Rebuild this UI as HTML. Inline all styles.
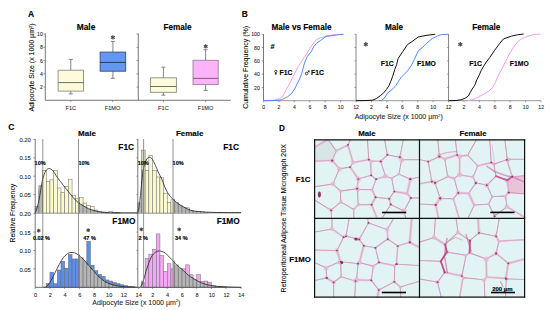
<!DOCTYPE html>
<html><head><meta charset="utf-8"><style>
html,body{margin:0;padding:0;background:#fff;}
svg{display:block;font-family:"Liberation Sans", sans-serif;}
</style></head><body>
<svg width="550" height="310" viewBox="0 0 550 310">
<rect width="550" height="310" fill="#fff"/>
<text x="27.9" y="16.9" font-size="8.5" text-anchor="start" font-weight="bold" stroke="#000" stroke-width="0.12" fill="#000" >A</text>
<text x="0" y="0" font-size="7.0" text-anchor="middle" stroke="#000" stroke-width="0.07" fill="#000" transform="translate(34.1,67.4) rotate(-90)">Adipocyte Size (x 1000 µm<tspan font-size="4.2" dy="-2.4">2</tspan><tspan dy="2.4">)</tspan></text>
<line x1="45.3" y1="33.4" x2="45.3" y2="100.3" stroke="#555" stroke-width="0.8" />
<line x1="43.5" y1="87.06" x2="45.3" y2="87.06" stroke="#555" stroke-width="0.6" />
<line x1="43.5" y1="73.82" x2="45.3" y2="73.82" stroke="#555" stroke-width="0.6" />
<line x1="43.5" y1="60.58" x2="45.3" y2="60.58" stroke="#555" stroke-width="0.6" />
<line x1="43.5" y1="47.339999999999996" x2="45.3" y2="47.339999999999996" stroke="#555" stroke-width="0.6" />
<line x1="43.5" y1="34.099999999999994" x2="45.3" y2="34.099999999999994" stroke="#555" stroke-width="0.6" />
<line x1="138.3" y1="33.4" x2="138.3" y2="100.3" stroke="#555" stroke-width="0.8" />
<line x1="136.5" y1="87.06" x2="138.3" y2="87.06" stroke="#555" stroke-width="0.6" />
<line x1="136.5" y1="73.82" x2="138.3" y2="73.82" stroke="#555" stroke-width="0.6" />
<line x1="136.5" y1="60.58" x2="138.3" y2="60.58" stroke="#555" stroke-width="0.6" />
<line x1="136.5" y1="47.339999999999996" x2="138.3" y2="47.339999999999996" stroke="#555" stroke-width="0.6" />
<line x1="136.5" y1="34.099999999999994" x2="138.3" y2="34.099999999999994" stroke="#555" stroke-width="0.6" />
<text x="42.8" y="89.06" font-size="5.2" text-anchor="end" stroke="#222" stroke-width="0.07" fill="#222" >2</text>
<text x="42.8" y="75.82" font-size="5.2" text-anchor="end" stroke="#222" stroke-width="0.07" fill="#222" >4</text>
<text x="42.8" y="62.58" font-size="5.2" text-anchor="end" stroke="#222" stroke-width="0.07" fill="#222" >6</text>
<text x="42.8" y="49.339999999999996" font-size="5.2" text-anchor="end" stroke="#222" stroke-width="0.07" fill="#222" >8</text>
<text x="42.8" y="36.099999999999994" font-size="5.2" text-anchor="end" stroke="#222" stroke-width="0.07" fill="#222" >10</text>
<line x1="45.3" y1="100.3" x2="230.8" y2="100.3" stroke="#555" stroke-width="0.8" />
<line x1="70.8" y1="100.3" x2="70.8" y2="102.0" stroke="#555" stroke-width="0.6" />
<line x1="112.6" y1="100.3" x2="112.6" y2="102.0" stroke="#555" stroke-width="0.6" />
<line x1="163.4" y1="100.3" x2="163.4" y2="102.0" stroke="#555" stroke-width="0.6" />
<line x1="205.6" y1="100.3" x2="205.6" y2="102.0" stroke="#555" stroke-width="0.6" />
<text x="86" y="30.2" font-size="8.4" text-anchor="middle" font-weight="bold" stroke="#000" stroke-width="0.12" fill="#000" >Male</text>
<text x="177.5" y="30.2" font-size="8.2" text-anchor="middle" font-weight="bold" stroke="#000" stroke-width="0.12" fill="#000" >Female</text>
<text x="70.8" y="109.6" font-size="5.6" text-anchor="middle" stroke="#222" stroke-width="0.07" fill="#222" >F1C</text>
<text x="112.6" y="109.6" font-size="5.6" text-anchor="middle" stroke="#222" stroke-width="0.07" fill="#222" >F1MO</text>
<text x="163.4" y="109.6" font-size="5.6" text-anchor="middle" stroke="#222" stroke-width="0.07" fill="#222" >F1C</text>
<text x="205.6" y="109.6" font-size="5.6" text-anchor="middle" stroke="#222" stroke-width="0.07" fill="#222" >F1MO</text>
<line x1="70.8" y1="59.4" x2="70.8" y2="70.2" stroke="#666" stroke-width="0.8" />
<line x1="70.8" y1="91.1" x2="70.8" y2="93.9" stroke="#666" stroke-width="0.8" />
<line x1="68.8" y1="59.4" x2="72.8" y2="59.4" stroke="#666" stroke-width="0.8" />
<line x1="68.8" y1="93.9" x2="72.8" y2="93.9" stroke="#666" stroke-width="0.8" />
<rect x="58.1" y="70.2" width="25.4" height="20.89999999999999" fill="#fdfbdb" stroke="#8c8c7c" stroke-width="0.9" />
<line x1="58.1" y1="82.6" x2="83.5" y2="82.6" stroke="#6a6a5c" stroke-width="0.95" />
<line x1="112.9" y1="41.4" x2="112.9" y2="52.1" stroke="#666" stroke-width="0.8" />
<line x1="112.9" y1="71.2" x2="112.9" y2="78.3" stroke="#666" stroke-width="0.8" />
<line x1="110.9" y1="41.4" x2="114.9" y2="41.4" stroke="#666" stroke-width="0.8" />
<line x1="110.9" y1="78.3" x2="114.9" y2="78.3" stroke="#666" stroke-width="0.8" />
<rect x="100.1" y="52.1" width="25.60000000000001" height="19.1" fill="#6397f2" stroke="#3b4d75" stroke-width="0.9" />
<line x1="100.1" y1="62.4" x2="125.7" y2="62.4" stroke="#2a3550" stroke-width="0.95" />
<line x1="163.4" y1="67.1" x2="163.4" y2="77.8" stroke="#666" stroke-width="0.8" />
<line x1="163.4" y1="92.3" x2="163.4" y2="95.2" stroke="#666" stroke-width="0.8" />
<line x1="161.4" y1="67.1" x2="165.4" y2="67.1" stroke="#666" stroke-width="0.8" />
<line x1="161.4" y1="95.2" x2="165.4" y2="95.2" stroke="#666" stroke-width="0.8" />
<rect x="150.4" y="77.8" width="26.0" height="14.5" fill="#fdfbdb" stroke="#8c8c7c" stroke-width="0.9" />
<line x1="150.4" y1="86.5" x2="176.4" y2="86.5" stroke="#6a6a5c" stroke-width="0.95" />
<line x1="205.6" y1="49.7" x2="205.6" y2="60.3" stroke="#666" stroke-width="0.8" />
<line x1="205.6" y1="84.6" x2="205.6" y2="90.4" stroke="#666" stroke-width="0.8" />
<line x1="203.6" y1="49.7" x2="207.6" y2="49.7" stroke="#666" stroke-width="0.8" />
<line x1="203.6" y1="90.4" x2="207.6" y2="90.4" stroke="#666" stroke-width="0.8" />
<rect x="193" y="60.3" width="25.19999999999999" height="24.299999999999997" fill="#fbb4f9" stroke="#968696" stroke-width="0.9" />
<line x1="193" y1="78.4" x2="218.2" y2="78.4" stroke="#7a5a7a" stroke-width="0.95" />
<line x1="112.9" y1="35.2" x2="112.9" y2="39.6" stroke="#444" stroke-width="1.15" />
<line x1="110.99" y1="36.3" x2="114.81" y2="38.5" stroke="#444" stroke-width="1.15" />
<line x1="110.99" y1="38.5" x2="114.81" y2="36.3" stroke="#444" stroke-width="1.15" />
<line x1="205.7" y1="44.2" x2="205.7" y2="48.6" stroke="#444" stroke-width="1.15" />
<line x1="203.79" y1="45.3" x2="207.61" y2="47.5" stroke="#444" stroke-width="1.15" />
<line x1="203.79" y1="47.5" x2="207.61" y2="45.3" stroke="#444" stroke-width="1.15" />
<text x="241.8" y="16.9" font-size="8.4" text-anchor="start" font-weight="bold" stroke="#000" stroke-width="0.12" fill="#000" >B</text>
<text x="0" y="0" font-size="7.0" text-anchor="middle" stroke="#000" stroke-width="0.07" fill="#000" transform="translate(248.3,67.4) rotate(-90)">Cumulative Frequency (%)</text>
<line x1="263.5" y1="34.2" x2="263.5" y2="100.7" stroke="#555" stroke-width="0.8" />
<line x1="261.7" y1="87.42" x2="263.5" y2="87.42" stroke="#555" stroke-width="0.6" />
<text x="259.9" y="89.52" font-size="5.2" text-anchor="end" stroke="#222" stroke-width="0.07" fill="#222" >20</text>
<line x1="261.7" y1="74.14" x2="263.5" y2="74.14" stroke="#555" stroke-width="0.6" />
<text x="259.9" y="76.24" font-size="5.2" text-anchor="end" stroke="#222" stroke-width="0.07" fill="#222" >40</text>
<line x1="261.7" y1="60.86" x2="263.5" y2="60.86" stroke="#555" stroke-width="0.6" />
<text x="259.9" y="62.96" font-size="5.2" text-anchor="end" stroke="#222" stroke-width="0.07" fill="#222" >60</text>
<line x1="261.7" y1="47.58" x2="263.5" y2="47.58" stroke="#555" stroke-width="0.6" />
<text x="259.9" y="49.68" font-size="5.2" text-anchor="end" stroke="#222" stroke-width="0.07" fill="#222" >80</text>
<line x1="261.7" y1="34.3" x2="263.5" y2="34.3" stroke="#555" stroke-width="0.6" />
<text x="259.9" y="36.4" font-size="5.2" text-anchor="end" stroke="#222" stroke-width="0.07" fill="#222" >100</text>
<line x1="356.02" y1="34.2" x2="356.02" y2="100.7" stroke="#666" stroke-width="0.8" />
<line x1="354.41999999999996" y1="87.42" x2="356.02" y2="87.42" stroke="#555" stroke-width="0.5" />
<line x1="354.41999999999996" y1="74.14" x2="356.02" y2="74.14" stroke="#555" stroke-width="0.5" />
<line x1="354.41999999999996" y1="60.86" x2="356.02" y2="60.86" stroke="#555" stroke-width="0.5" />
<line x1="354.41999999999996" y1="47.58" x2="356.02" y2="47.58" stroke="#555" stroke-width="0.5" />
<line x1="354.41999999999996" y1="34.3" x2="356.02" y2="34.3" stroke="#555" stroke-width="0.5" />
<line x1="448.53999999999996" y1="34.2" x2="448.53999999999996" y2="100.7" stroke="#666" stroke-width="0.8" />
<line x1="446.93999999999994" y1="87.42" x2="448.53999999999996" y2="87.42" stroke="#555" stroke-width="0.5" />
<line x1="446.93999999999994" y1="74.14" x2="448.53999999999996" y2="74.14" stroke="#555" stroke-width="0.5" />
<line x1="446.93999999999994" y1="60.86" x2="448.53999999999996" y2="60.86" stroke="#555" stroke-width="0.5" />
<line x1="446.93999999999994" y1="47.58" x2="448.53999999999996" y2="47.58" stroke="#555" stroke-width="0.5" />
<line x1="446.93999999999994" y1="34.3" x2="448.53999999999996" y2="34.3" stroke="#555" stroke-width="0.5" />
<line x1="263.5" y1="100.7" x2="541.06" y2="100.7" stroke="#999" stroke-width="1.0" />
<line x1="263.5" y1="100.7" x2="263.5" y2="102.2" stroke="#555" stroke-width="0.6" />
<text x="263.6" y="109.4" font-size="5.2" text-anchor="middle" stroke="#222" stroke-width="0.07" fill="#222" >0</text>
<line x1="278.92" y1="100.7" x2="278.92" y2="102.2" stroke="#555" stroke-width="0.6" />
<text x="279.02000000000004" y="109.4" font-size="5.2" text-anchor="middle" stroke="#222" stroke-width="0.07" fill="#222" >2</text>
<line x1="294.34" y1="100.7" x2="294.34" y2="102.2" stroke="#555" stroke-width="0.6" />
<text x="294.44" y="109.4" font-size="5.2" text-anchor="middle" stroke="#222" stroke-width="0.07" fill="#222" >4</text>
<line x1="309.76" y1="100.7" x2="309.76" y2="102.2" stroke="#555" stroke-width="0.6" />
<text x="309.86" y="109.4" font-size="5.2" text-anchor="middle" stroke="#222" stroke-width="0.07" fill="#222" >6</text>
<line x1="325.18" y1="100.7" x2="325.18" y2="102.2" stroke="#555" stroke-width="0.6" />
<text x="325.28000000000003" y="109.4" font-size="5.2" text-anchor="middle" stroke="#222" stroke-width="0.07" fill="#222" >8</text>
<line x1="340.6" y1="100.7" x2="340.6" y2="102.2" stroke="#555" stroke-width="0.6" />
<text x="340.70000000000005" y="109.4" font-size="5.2" text-anchor="middle" stroke="#222" stroke-width="0.07" fill="#222" >10</text>
<line x1="356.02" y1="100.7" x2="356.02" y2="102.2" stroke="#555" stroke-width="0.6" />
<text x="356.12" y="109.4" font-size="5.2" text-anchor="middle" stroke="#222" stroke-width="0.07" fill="#222" >12</text>
<line x1="371.44" y1="100.7" x2="371.44" y2="102.2" stroke="#555" stroke-width="0.6" />
<text x="371.54" y="109.4" font-size="5.2" text-anchor="middle" stroke="#222" stroke-width="0.07" fill="#222" >2</text>
<line x1="386.85999999999996" y1="100.7" x2="386.85999999999996" y2="102.2" stroke="#555" stroke-width="0.6" />
<text x="386.96" y="109.4" font-size="5.2" text-anchor="middle" stroke="#222" stroke-width="0.07" fill="#222" >4</text>
<line x1="402.28" y1="100.7" x2="402.28" y2="102.2" stroke="#555" stroke-width="0.6" />
<text x="402.38" y="109.4" font-size="5.2" text-anchor="middle" stroke="#222" stroke-width="0.07" fill="#222" >6</text>
<line x1="417.7" y1="100.7" x2="417.7" y2="102.2" stroke="#555" stroke-width="0.6" />
<text x="417.8" y="109.4" font-size="5.2" text-anchor="middle" stroke="#222" stroke-width="0.07" fill="#222" >8</text>
<line x1="433.12" y1="100.7" x2="433.12" y2="102.2" stroke="#555" stroke-width="0.6" />
<text x="433.22" y="109.4" font-size="5.2" text-anchor="middle" stroke="#222" stroke-width="0.07" fill="#222" >10</text>
<line x1="448.53999999999996" y1="100.7" x2="448.53999999999996" y2="102.2" stroke="#555" stroke-width="0.6" />
<text x="448.64" y="109.4" font-size="5.2" text-anchor="middle" stroke="#222" stroke-width="0.07" fill="#222" >12</text>
<line x1="463.96" y1="100.7" x2="463.96" y2="102.2" stroke="#555" stroke-width="0.6" />
<text x="464.06" y="109.4" font-size="5.2" text-anchor="middle" stroke="#222" stroke-width="0.07" fill="#222" >2</text>
<line x1="479.37999999999994" y1="100.7" x2="479.37999999999994" y2="102.2" stroke="#555" stroke-width="0.6" />
<text x="479.47999999999996" y="109.4" font-size="5.2" text-anchor="middle" stroke="#222" stroke-width="0.07" fill="#222" >4</text>
<line x1="494.79999999999995" y1="100.7" x2="494.79999999999995" y2="102.2" stroke="#555" stroke-width="0.6" />
<text x="494.9" y="109.4" font-size="5.2" text-anchor="middle" stroke="#222" stroke-width="0.07" fill="#222" >6</text>
<line x1="510.21999999999997" y1="100.7" x2="510.21999999999997" y2="102.2" stroke="#555" stroke-width="0.6" />
<text x="510.32" y="109.4" font-size="5.2" text-anchor="middle" stroke="#222" stroke-width="0.07" fill="#222" >8</text>
<line x1="525.64" y1="100.7" x2="525.64" y2="102.2" stroke="#555" stroke-width="0.6" />
<text x="525.74" y="109.4" font-size="5.2" text-anchor="middle" stroke="#222" stroke-width="0.07" fill="#222" >10</text>
<line x1="541.06" y1="100.7" x2="541.06" y2="102.2" stroke="#555" stroke-width="0.6" />
<text x="541.16" y="109.4" font-size="5.2" text-anchor="middle" stroke="#222" stroke-width="0.07" fill="#222" >12</text>
<text x="398.7" y="119.0" font-size="7.0" text-anchor="middle" stroke="#222" stroke-width="0.07" fill="#222" >Adipocyte Size (x 1000 µm<tspan font-size="4.2" dy="-2.4">2</tspan><tspan dy="2.4">)</tspan></text>
<text x="301.5" y="30.3" font-size="8.2" text-anchor="middle" font-weight="bold" stroke="#000" stroke-width="0.12" fill="#000" >Male vs Female</text>
<text x="394.0" y="30.3" font-size="8.2" text-anchor="middle" font-weight="bold" stroke="#000" stroke-width="0.12" fill="#000" >Male</text>
<text x="486.3" y="30.3" font-size="8.2" text-anchor="middle" font-weight="bold" stroke="#000" stroke-width="0.12" fill="#000" >Female</text>
<text x="270.6" y="48.9" font-size="7.4" text-anchor="start" font-weight="bold" stroke="#000" stroke-width="0.12" fill="#000" >#</text>
<circle cx="275.8" cy="71.4" r="1.15" fill="none" stroke="#111" stroke-width="0.8"/>
<line x1="275.8" y1="72.5" x2="275.8" y2="74.8" stroke="#111" stroke-width="0.8" />
<line x1="274.7" y1="73.7" x2="276.9" y2="73.7" stroke="#111" stroke-width="0.7" />
<text x="279.6" y="74.9" font-size="6.8" text-anchor="start" font-weight="bold" stroke="#000" stroke-width="0.12" fill="#000" >F1C</text>
<circle cx="306.6" cy="73.5" r="1.25" fill="none" stroke="#111" stroke-width="0.8"/>
<line x1="307.5" y1="72.6" x2="309.2" y2="70.9" stroke="#111" stroke-width="0.8" />
<line x1="307.6" y1="70.9" x2="309.3" y2="70.9" stroke="#111" stroke-width="0.7" />
<line x1="309.2" y1="70.8" x2="309.2" y2="72.5" stroke="#111" stroke-width="0.7" />
<text x="311.0" y="74.9" font-size="6.8" text-anchor="start" font-weight="bold" stroke="#000" stroke-width="0.12" fill="#000" >F1C</text>
<line x1="365.8" y1="42.0" x2="365.8" y2="46.6" stroke="#444" stroke-width="1.15" />
<line x1="363.81" y1="43.15" x2="367.79" y2="45.45" stroke="#444" stroke-width="1.15" />
<line x1="363.81" y1="45.45" x2="367.79" y2="43.15" stroke="#444" stroke-width="1.15" />
<line x1="460.3" y1="42.0" x2="460.3" y2="46.6" stroke="#444" stroke-width="1.15" />
<line x1="458.31" y1="43.15" x2="462.29" y2="45.45" stroke="#444" stroke-width="1.15" />
<line x1="458.31" y1="45.45" x2="462.29" y2="43.15" stroke="#444" stroke-width="1.15" />
<text x="387.2" y="65.5" font-size="6.8" text-anchor="middle" font-weight="bold" stroke="#000" stroke-width="0.12" fill="#000" >F1C</text>
<text x="426.4" y="65.6" font-size="6.8" text-anchor="middle" font-weight="bold" stroke="#000" stroke-width="0.12" fill="#000" >F1MO</text>
<text x="475.6" y="65.6" font-size="6.8" text-anchor="middle" font-weight="bold" stroke="#000" stroke-width="0.12" fill="#000" >F1C</text>
<text x="519.3" y="65.7" font-size="6.8" text-anchor="middle" font-weight="bold" stroke="#000" stroke-width="0.12" fill="#000" >F1MO</text>
<polyline points="263.5,100.7 272.0,100.4 279.8,98.7 282.3,96.8 284.3,93.6 286.2,89.7 288.8,85.2 290.7,81.3 293.3,76.2 295.9,71.0 298.2,66.5 300.2,63.5 304.0,57.7 307.9,51.9 311.8,45.5 315.6,40.3 318.9,38.4 323.4,37.1 326.0,35.8 331.1,35.2 336.3,34.5 343.4,34.3" fill="none" stroke="#f59cf2" stroke-width="1.0" stroke-linejoin="round" />
<polyline points="263.5,100.7 274.6,100.5 281.0,100.0 283.6,98.7 287.5,96.8 291.4,93.6 294.6,89.1 297.1,83.9 299.7,78.8 301.7,73.6 302.8,69.4 304.7,62.3 307.3,56.5 311.1,51.9 313.7,46.8 316.3,43.5 320.8,40.3 326.0,36.5 331.1,35.8 337.6,34.9 343.4,34.3" fill="none" stroke="#4f8cf0" stroke-width="1.0" stroke-linejoin="round" />
<polyline points="356.0,100.7 367.0,100.5 372.8,100.1 376.6,98.5 380.5,95.5 383.7,92.9 386.3,89.7 388.9,85.8 390.8,81.3 392.7,76.2 394.7,69.7 396.6,64.6 398.1,58.6 402.7,51.7 407.4,44.7 412.0,41.6 418.2,37.0 426.0,35.4 435.2,34.3" fill="none" stroke="#111" stroke-width="1.0" stroke-linejoin="round" />
<polyline points="379.0,100.7 381.8,100.4 385.0,97.4 387.6,92.9 390.1,91.0 393.4,88.4 396.0,85.2 398.5,81.3 401.1,77.5 404.0,74.5 407.4,71.0 411.3,65.6 414.4,59.4 418.2,50.9 422.1,47.8 426.7,43.2 432.2,38.5 437.6,35.9 441.4,34.6 447.6,34.3" fill="none" stroke="#4f8cf0" stroke-width="1.0" stroke-linejoin="round" />
<polyline points="448.5,100.7 456.1,100.5 461.9,99.6 465.8,97.8 468.3,96.1 470.3,92.3 472.2,89.1 474.8,85.2 476.7,80.0 479.3,74.9 481.2,70.4 483.8,65.9 486.4,62.0 489.8,57.4 494.7,50.2 499.5,43.7 503.5,38.9 511.6,36.1 517.3,34.8 523.7,34.0" fill="none" stroke="#111" stroke-width="1.0" stroke-linejoin="round" />
<polyline points="468.0,100.7 473.5,99.4 478.6,96.8 483.8,94.2 489.0,91.0 492.8,87.1 495.4,82.6 497.3,77.5 499.0,74.2 501.1,70.3 505.2,62.3 509.2,54.2 513.2,47.7 517.3,42.1 521.3,38.9 526.9,36.5 533.4,34.5 540.6,34.0" fill="none" stroke="#f59cf2" stroke-width="1.0" stroke-linejoin="round" />
<text x="8.3" y="130.3" font-size="8.5" text-anchor="start" font-weight="bold" stroke="#000" stroke-width="0.12" fill="#000" >C</text>
<text x="0" y="0" font-size="6.8" text-anchor="middle" stroke="#000" stroke-width="0.07" fill="#000" transform="translate(14.6,213.1) rotate(-90)">Relative Frequency</text>
<line x1="33.400000000000006" y1="194.6" x2="35.2" y2="194.6" stroke="#555" stroke-width="0.6" />
<line x1="136.3" y1="194.6" x2="137.8" y2="194.6" stroke="#555" stroke-width="0.5" />
<text x="30.9" y="197.2" font-size="5.9" text-anchor="end" stroke="#222" stroke-width="0.07" fill="#222" >0.05</text>
<line x1="33.400000000000006" y1="176.2" x2="35.2" y2="176.2" stroke="#555" stroke-width="0.6" />
<line x1="136.3" y1="176.2" x2="137.8" y2="176.2" stroke="#555" stroke-width="0.5" />
<text x="30.9" y="178.79999999999998" font-size="5.9" text-anchor="end" stroke="#222" stroke-width="0.07" fill="#222" >0.10</text>
<line x1="33.400000000000006" y1="157.79999999999998" x2="35.2" y2="157.79999999999998" stroke="#555" stroke-width="0.6" />
<line x1="136.3" y1="157.79999999999998" x2="137.8" y2="157.79999999999998" stroke="#555" stroke-width="0.5" />
<text x="30.9" y="160.39999999999998" font-size="5.9" text-anchor="end" stroke="#222" stroke-width="0.07" fill="#222" >0.15</text>
<line x1="33.400000000000006" y1="139.39999999999998" x2="35.2" y2="139.39999999999998" stroke="#555" stroke-width="0.6" />
<line x1="136.3" y1="139.39999999999998" x2="137.8" y2="139.39999999999998" stroke="#555" stroke-width="0.5" />
<text x="30.9" y="141.99999999999997" font-size="5.9" text-anchor="end" stroke="#222" stroke-width="0.07" fill="#222" >0.20</text>
<line x1="33.400000000000006" y1="268.90000000000003" x2="35.2" y2="268.90000000000003" stroke="#555" stroke-width="0.6" />
<line x1="136.3" y1="268.90000000000003" x2="137.8" y2="268.90000000000003" stroke="#555" stroke-width="0.5" />
<text x="30.9" y="271.50000000000006" font-size="5.9" text-anchor="end" stroke="#222" stroke-width="0.07" fill="#222" >0.05</text>
<line x1="33.400000000000006" y1="250.5" x2="35.2" y2="250.5" stroke="#555" stroke-width="0.6" />
<line x1="136.3" y1="250.5" x2="137.8" y2="250.5" stroke="#555" stroke-width="0.5" />
<text x="30.9" y="253.1" font-size="5.9" text-anchor="end" stroke="#222" stroke-width="0.07" fill="#222" >0.10</text>
<line x1="33.400000000000006" y1="232.1" x2="35.2" y2="232.1" stroke="#555" stroke-width="0.6" />
<line x1="136.3" y1="232.1" x2="137.8" y2="232.1" stroke="#555" stroke-width="0.5" />
<text x="30.9" y="234.7" font-size="5.9" text-anchor="end" stroke="#222" stroke-width="0.07" fill="#222" >0.15</text>
<line x1="33.400000000000006" y1="213.7" x2="35.2" y2="213.7" stroke="#555" stroke-width="0.6" />
<line x1="136.3" y1="213.7" x2="137.8" y2="213.7" stroke="#555" stroke-width="0.5" />
<text x="30.9" y="216.29999999999998" font-size="5.9" text-anchor="end" stroke="#222" stroke-width="0.07" fill="#222" >0.20</text>
<line x1="35.2" y1="287.3" x2="35.2" y2="288.90000000000003" stroke="#555" stroke-width="0.6" />
<text x="35.5" y="297.0" font-size="5.6" text-anchor="middle" stroke="#222" stroke-width="0.07" fill="#222" >0</text>
<line x1="49.940000000000005" y1="287.3" x2="49.940000000000005" y2="288.90000000000003" stroke="#555" stroke-width="0.6" />
<text x="50.24" y="297.0" font-size="5.6" text-anchor="middle" stroke="#222" stroke-width="0.07" fill="#222" >2</text>
<line x1="64.68" y1="287.3" x2="64.68" y2="288.90000000000003" stroke="#555" stroke-width="0.6" />
<text x="64.98" y="297.0" font-size="5.6" text-anchor="middle" stroke="#222" stroke-width="0.07" fill="#222" >4</text>
<line x1="79.42" y1="287.3" x2="79.42" y2="288.90000000000003" stroke="#555" stroke-width="0.6" />
<text x="79.72" y="297.0" font-size="5.6" text-anchor="middle" stroke="#222" stroke-width="0.07" fill="#222" >6</text>
<line x1="94.16" y1="287.3" x2="94.16" y2="288.90000000000003" stroke="#555" stroke-width="0.6" />
<text x="94.46" y="297.0" font-size="5.6" text-anchor="middle" stroke="#222" stroke-width="0.07" fill="#222" >8</text>
<line x1="108.9" y1="287.3" x2="108.9" y2="288.90000000000003" stroke="#555" stroke-width="0.6" />
<text x="109.2" y="297.0" font-size="5.6" text-anchor="middle" stroke="#222" stroke-width="0.07" fill="#222" >10</text>
<line x1="123.64" y1="287.3" x2="123.64" y2="288.90000000000003" stroke="#555" stroke-width="0.6" />
<text x="123.94" y="297.0" font-size="5.6" text-anchor="middle" stroke="#222" stroke-width="0.07" fill="#222" >12</text>
<line x1="138.38" y1="287.3" x2="138.38" y2="288.90000000000003" stroke="#555" stroke-width="0.6" />
<text x="138.68" y="297.0" font-size="5.6" text-anchor="middle" stroke="#222" stroke-width="0.07" fill="#222" >14</text>
<line x1="152.54000000000002" y1="287.3" x2="152.54000000000002" y2="288.90000000000003" stroke="#555" stroke-width="0.6" />
<text x="152.84000000000003" y="297.0" font-size="5.6" text-anchor="middle" stroke="#222" stroke-width="0.07" fill="#222" >2</text>
<line x1="167.28" y1="287.3" x2="167.28" y2="288.90000000000003" stroke="#555" stroke-width="0.6" />
<text x="167.58" y="297.0" font-size="5.6" text-anchor="middle" stroke="#222" stroke-width="0.07" fill="#222" >4</text>
<line x1="182.02" y1="287.3" x2="182.02" y2="288.90000000000003" stroke="#555" stroke-width="0.6" />
<text x="182.32000000000002" y="297.0" font-size="5.6" text-anchor="middle" stroke="#222" stroke-width="0.07" fill="#222" >6</text>
<line x1="196.76000000000002" y1="287.3" x2="196.76000000000002" y2="288.90000000000003" stroke="#555" stroke-width="0.6" />
<text x="197.06000000000003" y="297.0" font-size="5.6" text-anchor="middle" stroke="#222" stroke-width="0.07" fill="#222" >8</text>
<line x1="211.5" y1="287.3" x2="211.5" y2="288.90000000000003" stroke="#555" stroke-width="0.6" />
<text x="211.8" y="297.0" font-size="5.6" text-anchor="middle" stroke="#222" stroke-width="0.07" fill="#222" >10</text>
<line x1="226.24" y1="287.3" x2="226.24" y2="288.90000000000003" stroke="#555" stroke-width="0.6" />
<text x="226.54000000000002" y="297.0" font-size="5.6" text-anchor="middle" stroke="#222" stroke-width="0.07" fill="#222" >12</text>
<line x1="240.98000000000002" y1="287.3" x2="240.98000000000002" y2="288.90000000000003" stroke="#555" stroke-width="0.6" />
<text x="241.28000000000003" y="297.0" font-size="5.6" text-anchor="middle" stroke="#222" stroke-width="0.07" fill="#222" >14</text>
<text x="136.4" y="304.7" font-size="7.0" text-anchor="middle" stroke="#222" stroke-width="0.07" fill="#222" >Adipocyte Size (x 1000 µm<tspan font-size="4.2" dy="-2.4">2</tspan><tspan dy="2.4">)</tspan></text>
<line x1="35.2" y1="213.0" x2="240.98000000000002" y2="213.0" stroke="#777" stroke-width="0.7" />
<rect x="35.2" y="206.74" width="3.685" height="6.26" fill="#b6b6b6" stroke="#6a6a6a" stroke-width="0.5" />
<rect x="38.89" y="185.77" width="3.685" height="27.23" fill="#b6b6b6" stroke="#6a6a6a" stroke-width="0.5" />
<rect x="42.57" y="170.31" width="3.685" height="42.69" fill="#fbf9d0" stroke="#6a6a6a" stroke-width="0.5" />
<rect x="46.26" y="181.72" width="3.685" height="31.28" fill="#fbf9d0" stroke="#6a6a6a" stroke-width="0.5" />
<rect x="49.94" y="179.88" width="3.685" height="33.12" fill="#fbf9d0" stroke="#6a6a6a" stroke-width="0.5" />
<rect x="53.62" y="170.68" width="3.685" height="42.32" fill="#fbf9d0" stroke="#6a6a6a" stroke-width="0.5" />
<rect x="57.31" y="187.98" width="3.685" height="25.02" fill="#fbf9d0" stroke="#6a6a6a" stroke-width="0.5" />
<rect x="61.0" y="192.39" width="3.685" height="20.61" fill="#fbf9d0" stroke="#6a6a6a" stroke-width="0.5" />
<rect x="64.68" y="186.5" width="3.685" height="26.5" fill="#fbf9d0" stroke="#6a6a6a" stroke-width="0.5" />
<rect x="68.37" y="179.14" width="3.685" height="33.86" fill="#fbf9d0" stroke="#6a6a6a" stroke-width="0.5" />
<rect x="72.05" y="195.7" width="3.685" height="17.3" fill="#fbf9d0" stroke="#6a6a6a" stroke-width="0.5" />
<rect x="75.74" y="198.65" width="3.685" height="14.35" fill="#fbf9d0" stroke="#6a6a6a" stroke-width="0.5" />
<rect x="79.42" y="197.54" width="3.685" height="15.46" fill="#fbf9d0" stroke="#6a6a6a" stroke-width="0.5" />
<rect x="83.11" y="203.06" width="3.685" height="9.94" fill="#fbf9d0" stroke="#6a6a6a" stroke-width="0.5" />
<rect x="86.79" y="205.64" width="3.685" height="7.36" fill="#fbf9d0" stroke="#6a6a6a" stroke-width="0.5" />
<rect x="90.47" y="206.74" width="3.685" height="6.26" fill="#fbf9d0" stroke="#6a6a6a" stroke-width="0.5" />
<rect x="94.16" y="210.06" width="3.685" height="2.94" fill="#fbf9d0" stroke="#6a6a6a" stroke-width="0.5" />
<rect x="97.84" y="211.53" width="3.685" height="1.47" fill="#fbf9d0" stroke="#6a6a6a" stroke-width="0.5" />
<rect x="101.53" y="211.9" width="3.685" height="1.1" fill="#fbf9d0" stroke="#6a6a6a" stroke-width="0.5" />
<rect x="105.22" y="212.26" width="3.685" height="0.74" fill="#fbf9d0" stroke="#6a6a6a" stroke-width="0.5" />
<rect x="108.9" y="211.53" width="3.685" height="1.47" fill="#fbf9d0" stroke="#6a6a6a" stroke-width="0.5" />
<rect x="112.59" y="212.63" width="3.685" height="0.37" fill="#fbf9d0" stroke="#6a6a6a" stroke-width="0.5" />
<rect x="116.27" y="212.63" width="3.685" height="0.37" fill="#fbf9d0" stroke="#6a6a6a" stroke-width="0.5" />
<rect x="35.2" y="207.83" width="3.69" height="5.17" fill="#b6b6b6" stroke="none" stroke-width="0" />
<line x1="35.2" y1="213.0" x2="35.2" y2="207.83" stroke="#6e6e6e" stroke-width="0.55" />
<line x1="38.89" y1="213.0" x2="38.89" y2="207.83" stroke="#6e6e6e" stroke-width="0.55" />
<rect x="38.89" y="189.74" width="3.69" height="23.26" fill="#b6b6b6" stroke="none" stroke-width="0" />
<line x1="38.89" y1="213.0" x2="38.89" y2="189.74" stroke="#6e6e6e" stroke-width="0.55" />
<line x1="42.57" y1="213.0" x2="42.57" y2="189.74" stroke="#6e6e6e" stroke-width="0.55" />
<rect x="42.57" y="174.49" width="0.23" height="38.51" fill="#b6b6b6" stroke="none" stroke-width="0" />
<line x1="42.57" y1="213.0" x2="42.57" y2="174.49" stroke="#6e6e6e" stroke-width="0.55" />
<rect x="78.5" y="201.98" width="0.92" height="11.02" fill="#b6b6b6" stroke="none" stroke-width="0" />
<line x1="79.42" y1="213.0" x2="79.42" y2="201.98" stroke="#6e6e6e" stroke-width="0.55" />
<rect x="79.42" y="204.52" width="3.69" height="8.48" fill="#b6b6b6" stroke="none" stroke-width="0" />
<line x1="79.42" y1="213.0" x2="79.42" y2="204.52" stroke="#6e6e6e" stroke-width="0.55" />
<line x1="83.11" y1="213.0" x2="83.11" y2="204.52" stroke="#6e6e6e" stroke-width="0.55" />
<rect x="83.11" y="206.72" width="3.69" height="6.28" fill="#b6b6b6" stroke="none" stroke-width="0" />
<line x1="83.11" y1="213.0" x2="83.11" y2="206.72" stroke="#6e6e6e" stroke-width="0.55" />
<line x1="86.79" y1="213.0" x2="86.79" y2="206.72" stroke="#6e6e6e" stroke-width="0.55" />
<rect x="86.79" y="208.81" width="3.69" height="4.19" fill="#b6b6b6" stroke="none" stroke-width="0" />
<line x1="86.79" y1="213.0" x2="86.79" y2="208.81" stroke="#6e6e6e" stroke-width="0.55" />
<line x1="90.48" y1="213.0" x2="90.48" y2="208.81" stroke="#6e6e6e" stroke-width="0.55" />
<rect x="90.47" y="209.94" width="3.69" height="3.06" fill="#b6b6b6" stroke="none" stroke-width="0" />
<line x1="90.47" y1="213.0" x2="90.47" y2="209.94" stroke="#6e6e6e" stroke-width="0.55" />
<line x1="94.16" y1="213.0" x2="94.16" y2="209.94" stroke="#6e6e6e" stroke-width="0.55" />
<rect x="94.16" y="210.95" width="3.69" height="2.05" fill="#b6b6b6" stroke="none" stroke-width="0" />
<line x1="94.16" y1="213.0" x2="94.16" y2="210.95" stroke="#6e6e6e" stroke-width="0.55" />
<line x1="97.84" y1="213.0" x2="97.84" y2="210.95" stroke="#6e6e6e" stroke-width="0.55" />
<rect x="97.84" y="211.87" width="3.69" height="1.13" fill="#b6b6b6" stroke="none" stroke-width="0" />
<line x1="97.84" y1="213.0" x2="97.84" y2="211.87" stroke="#6e6e6e" stroke-width="0.55" />
<line x1="101.53" y1="213.0" x2="101.53" y2="211.87" stroke="#6e6e6e" stroke-width="0.55" />
<rect x="101.53" y="212.34" width="3.69" height="0.66" fill="#b6b6b6" stroke="none" stroke-width="0" />
<line x1="101.53" y1="213.0" x2="101.53" y2="212.34" stroke="#6e6e6e" stroke-width="0.55" />
<line x1="105.22" y1="213.0" x2="105.22" y2="212.34" stroke="#6e6e6e" stroke-width="0.55" />
<path d="M35.20 212.90C35.50 212.08 36.30 210.45 37.00 208.00C37.70 205.55 38.73 201.53 39.40 198.20C40.07 194.87 40.47 191.13 41.00 188.00C41.53 184.87 41.82 182.23 42.60 179.40C43.38 176.57 44.58 172.82 45.70 171.00C46.82 169.18 48.07 168.50 49.30 168.50C50.53 168.50 51.77 169.53 53.10 171.00C54.43 172.47 55.55 174.85 57.30 177.30C59.05 179.75 61.82 183.40 63.60 185.70C65.38 188.00 66.40 189.12 68.00 191.10C69.60 193.08 71.48 195.67 73.20 197.60C74.92 199.53 76.58 201.32 78.30 202.70C80.02 204.08 81.78 204.88 83.50 205.90C85.22 206.92 86.88 208.05 88.60 208.80C90.32 209.55 91.87 209.87 93.80 210.40C95.73 210.93 98.05 211.62 100.20 212.00C102.35 212.38 103.40 212.55 106.70 212.70C110.00 212.85 114.87 212.87 120.00 212.90C125.13 212.93 134.58 212.90 137.50 212.90" fill="none" stroke="#222" stroke-width="0.8"/>
<rect x="137.8" y="211.16" width="3.685" height="1.84" fill="#b6b6b6" stroke="#6a6a6a" stroke-width="0.5" />
<rect x="141.49" y="150.07" width="3.685" height="62.93" fill="#d9d7b2" stroke="#6a6a6a" stroke-width="0.5" />
<rect x="145.17" y="170.31" width="3.685" height="42.69" fill="#fbf9d0" stroke="#6a6a6a" stroke-width="0.5" />
<rect x="148.86" y="155.59" width="3.685" height="57.41" fill="#fbf9d0" stroke="#6a6a6a" stroke-width="0.5" />
<rect x="152.54" y="170.68" width="3.685" height="42.32" fill="#fbf9d0" stroke="#6a6a6a" stroke-width="0.5" />
<rect x="156.23" y="176.94" width="3.685" height="36.06" fill="#fbf9d0" stroke="#6a6a6a" stroke-width="0.5" />
<rect x="159.91" y="177.67" width="3.685" height="35.33" fill="#fbf9d0" stroke="#6a6a6a" stroke-width="0.5" />
<rect x="163.6" y="193.13" width="3.685" height="19.87" fill="#fbf9d0" stroke="#6a6a6a" stroke-width="0.5" />
<rect x="167.28" y="202.33" width="3.685" height="10.67" fill="#fbf9d0" stroke="#6a6a6a" stroke-width="0.5" />
<rect x="170.97" y="199.75" width="3.685" height="13.25" fill="#fbf9d0" stroke="#6a6a6a" stroke-width="0.5" />
<rect x="174.65" y="203.43" width="3.685" height="9.57" fill="#fbf9d0" stroke="#6a6a6a" stroke-width="0.5" />
<rect x="178.34" y="205.27" width="3.685" height="7.73" fill="#fbf9d0" stroke="#6a6a6a" stroke-width="0.5" />
<rect x="182.02" y="207.48" width="3.685" height="5.52" fill="#fbf9d0" stroke="#6a6a6a" stroke-width="0.5" />
<rect x="185.71" y="207.85" width="3.685" height="5.15" fill="#fbf9d0" stroke="#6a6a6a" stroke-width="0.5" />
<rect x="189.39" y="210.42" width="3.685" height="2.58" fill="#fbf9d0" stroke="#6a6a6a" stroke-width="0.5" />
<rect x="193.08" y="211.53" width="3.685" height="1.47" fill="#fbf9d0" stroke="#6a6a6a" stroke-width="0.5" />
<rect x="196.76" y="211.9" width="3.685" height="1.1" fill="#fbf9d0" stroke="#6a6a6a" stroke-width="0.5" />
<rect x="200.45" y="212.26" width="3.685" height="0.74" fill="#fbf9d0" stroke="#6a6a6a" stroke-width="0.5" />
<rect x="204.13" y="212.63" width="3.685" height="0.37" fill="#fbf9d0" stroke="#6a6a6a" stroke-width="0.5" />
<rect x="137.8" y="202.33" width="3.69" height="10.67" fill="#b6b6b6" stroke="none" stroke-width="0" />
<line x1="137.8" y1="213.0" x2="137.8" y2="202.33" stroke="#6e6e6e" stroke-width="0.55" />
<line x1="141.49" y1="213.0" x2="141.49" y2="202.33" stroke="#6e6e6e" stroke-width="0.55" />
<rect x="141.49" y="169.49" width="2.11" height="43.51" fill="#b6b6b6" stroke="none" stroke-width="0" />
<line x1="141.49" y1="213.0" x2="141.49" y2="169.49" stroke="#6e6e6e" stroke-width="0.55" />
<rect x="173.0" y="198.86" width="1.65" height="14.14" fill="#b6b6b6" stroke="none" stroke-width="0" />
<line x1="174.65" y1="213.0" x2="174.65" y2="198.86" stroke="#6e6e6e" stroke-width="0.55" />
<rect x="174.65" y="202.13" width="3.69" height="10.87" fill="#b6b6b6" stroke="none" stroke-width="0" />
<line x1="174.65" y1="213.0" x2="174.65" y2="202.13" stroke="#6e6e6e" stroke-width="0.55" />
<line x1="178.34" y1="213.0" x2="178.34" y2="202.13" stroke="#6e6e6e" stroke-width="0.55" />
<rect x="178.34" y="204.9" width="3.69" height="8.1" fill="#b6b6b6" stroke="none" stroke-width="0" />
<line x1="178.34" y1="213.0" x2="178.34" y2="204.9" stroke="#6e6e6e" stroke-width="0.55" />
<line x1="182.02" y1="213.0" x2="182.02" y2="204.9" stroke="#6e6e6e" stroke-width="0.55" />
<rect x="182.02" y="207.01" width="3.69" height="5.99" fill="#b6b6b6" stroke="none" stroke-width="0" />
<line x1="182.02" y1="213.0" x2="182.02" y2="207.01" stroke="#6e6e6e" stroke-width="0.55" />
<line x1="185.71" y1="213.0" x2="185.71" y2="207.01" stroke="#6e6e6e" stroke-width="0.55" />
<rect x="185.71" y="208.77" width="3.69" height="4.23" fill="#b6b6b6" stroke="none" stroke-width="0" />
<line x1="185.71" y1="213.0" x2="185.71" y2="208.77" stroke="#6e6e6e" stroke-width="0.55" />
<line x1="189.39" y1="213.0" x2="189.39" y2="208.77" stroke="#6e6e6e" stroke-width="0.55" />
<rect x="189.39" y="210.22" width="3.69" height="2.78" fill="#b6b6b6" stroke="none" stroke-width="0" />
<line x1="189.39" y1="213.0" x2="189.39" y2="210.22" stroke="#6e6e6e" stroke-width="0.55" />
<line x1="193.08" y1="213.0" x2="193.08" y2="210.22" stroke="#6e6e6e" stroke-width="0.55" />
<rect x="193.08" y="211.01" width="3.69" height="1.99" fill="#b6b6b6" stroke="none" stroke-width="0" />
<line x1="193.08" y1="213.0" x2="193.08" y2="211.01" stroke="#6e6e6e" stroke-width="0.55" />
<line x1="196.76" y1="213.0" x2="196.76" y2="211.01" stroke="#6e6e6e" stroke-width="0.55" />
<rect x="196.76" y="211.36" width="3.69" height="1.64" fill="#b6b6b6" stroke="none" stroke-width="0" />
<line x1="196.76" y1="213.0" x2="196.76" y2="211.36" stroke="#6e6e6e" stroke-width="0.55" />
<line x1="200.45" y1="213.0" x2="200.45" y2="211.36" stroke="#6e6e6e" stroke-width="0.55" />
<rect x="200.45" y="211.7" width="3.69" height="1.3" fill="#b6b6b6" stroke="none" stroke-width="0" />
<line x1="200.45" y1="213.0" x2="200.45" y2="211.7" stroke="#6e6e6e" stroke-width="0.55" />
<line x1="204.13" y1="213.0" x2="204.13" y2="211.7" stroke="#6e6e6e" stroke-width="0.55" />
<rect x="204.13" y="212.05" width="3.69" height="0.95" fill="#b6b6b6" stroke="none" stroke-width="0" />
<line x1="204.13" y1="213.0" x2="204.13" y2="212.05" stroke="#6e6e6e" stroke-width="0.55" />
<line x1="207.81" y1="213.0" x2="207.81" y2="212.05" stroke="#6e6e6e" stroke-width="0.55" />
<rect x="207.81" y="212.19" width="3.69" height="0.81" fill="#b6b6b6" stroke="none" stroke-width="0" />
<line x1="207.81" y1="213.0" x2="207.81" y2="212.19" stroke="#6e6e6e" stroke-width="0.55" />
<line x1="211.5" y1="213.0" x2="211.5" y2="212.19" stroke="#6e6e6e" stroke-width="0.55" />
<rect x="211.5" y="212.3" width="3.69" height="0.7" fill="#b6b6b6" stroke="none" stroke-width="0" />
<line x1="211.5" y1="213.0" x2="211.5" y2="212.3" stroke="#6e6e6e" stroke-width="0.55" />
<line x1="215.19" y1="213.0" x2="215.19" y2="212.3" stroke="#6e6e6e" stroke-width="0.55" />
<rect x="215.19" y="212.41" width="3.69" height="0.59" fill="#b6b6b6" stroke="none" stroke-width="0" />
<line x1="215.19" y1="213.0" x2="215.19" y2="212.41" stroke="#6e6e6e" stroke-width="0.55" />
<line x1="218.87" y1="213.0" x2="218.87" y2="212.41" stroke="#6e6e6e" stroke-width="0.55" />
<rect x="218.87" y="212.5" width="3.69" height="0.5" fill="#b6b6b6" stroke="none" stroke-width="0" />
<line x1="218.87" y1="213.0" x2="218.87" y2="212.5" stroke="#6e6e6e" stroke-width="0.55" />
<line x1="222.56" y1="213.0" x2="222.56" y2="212.5" stroke="#6e6e6e" stroke-width="0.55" />
<rect x="222.56" y="212.52" width="3.69" height="0.48" fill="#b6b6b6" stroke="none" stroke-width="0" />
<line x1="222.56" y1="213.0" x2="222.56" y2="212.52" stroke="#6e6e6e" stroke-width="0.55" />
<line x1="226.24" y1="213.0" x2="226.24" y2="212.52" stroke="#6e6e6e" stroke-width="0.55" />
<rect x="226.24" y="212.54" width="3.69" height="0.46" fill="#b6b6b6" stroke="none" stroke-width="0" />
<line x1="226.24" y1="213.0" x2="226.24" y2="212.54" stroke="#6e6e6e" stroke-width="0.55" />
<line x1="229.93" y1="213.0" x2="229.93" y2="212.54" stroke="#6e6e6e" stroke-width="0.55" />
<rect x="229.93" y="212.56" width="3.69" height="0.44" fill="#b6b6b6" stroke="none" stroke-width="0" />
<line x1="229.93" y1="213.0" x2="229.93" y2="212.56" stroke="#6e6e6e" stroke-width="0.55" />
<line x1="233.61" y1="213.0" x2="233.61" y2="212.56" stroke="#6e6e6e" stroke-width="0.55" />
<rect x="233.61" y="212.57" width="3.69" height="0.43" fill="#b6b6b6" stroke="none" stroke-width="0" />
<line x1="233.61" y1="213.0" x2="233.61" y2="212.57" stroke="#6e6e6e" stroke-width="0.55" />
<line x1="237.3" y1="213.0" x2="237.3" y2="212.57" stroke="#6e6e6e" stroke-width="0.55" />
<rect x="237.3" y="212.59" width="3.69" height="0.41" fill="#b6b6b6" stroke="none" stroke-width="0" />
<line x1="237.3" y1="213.0" x2="237.3" y2="212.59" stroke="#6e6e6e" stroke-width="0.55" />
<line x1="240.98" y1="213.0" x2="240.98" y2="212.59" stroke="#6e6e6e" stroke-width="0.55" />
<path d="M138.10 212.40C138.42 210.33 139.38 205.23 140.00 200.00C140.62 194.77 141.27 186.00 141.80 181.00C142.33 176.00 142.73 172.77 143.20 170.00C143.67 167.23 144.00 166.23 144.60 164.40C145.20 162.57 146.07 160.18 146.80 159.00C147.53 157.82 148.37 157.53 149.00 157.30C149.63 157.07 149.97 157.15 150.60 157.60C151.23 158.05 151.98 158.68 152.80 160.00C153.62 161.32 154.68 163.67 155.50 165.50C156.32 167.33 156.97 169.35 157.70 171.00C158.43 172.65 159.17 173.93 159.90 175.40C160.63 176.87 161.35 178.03 162.10 179.80C162.85 181.57 163.50 183.88 164.40 186.00C165.30 188.12 166.32 190.55 167.50 192.50C168.68 194.45 169.65 195.78 171.50 197.70C173.35 199.62 176.25 202.28 178.60 204.00C180.95 205.72 183.25 206.87 185.60 208.00C187.95 209.13 189.22 210.12 192.70 210.80C196.18 211.48 201.95 211.82 206.50 212.10C211.05 212.38 214.25 212.42 220.00 212.50C225.75 212.58 237.50 212.58 241.00 212.60" fill="none" stroke="#222" stroke-width="0.8"/>
<rect x="46.26" y="283.62" width="3.685" height="3.68" fill="#5a8fec" stroke="#6a6a6a" stroke-width="0.5" />
<rect x="49.94" y="272.21" width="3.685" height="15.09" fill="#5a8fec" stroke="#6a6a6a" stroke-width="0.5" />
<rect x="53.62" y="283.62" width="3.685" height="3.68" fill="#5a8fec" stroke="#6a6a6a" stroke-width="0.5" />
<rect x="57.31" y="270.0" width="3.685" height="17.3" fill="#5a8fec" stroke="#6a6a6a" stroke-width="0.5" />
<rect x="61.0" y="261.17" width="3.685" height="26.13" fill="#5a8fec" stroke="#6a6a6a" stroke-width="0.5" />
<rect x="64.68" y="268.16" width="3.685" height="19.14" fill="#5a8fec" stroke="#6a6a6a" stroke-width="0.5" />
<rect x="68.37" y="254.55" width="3.685" height="32.75" fill="#5a8fec" stroke="#6a6a6a" stroke-width="0.5" />
<rect x="72.05" y="258.96" width="3.685" height="28.34" fill="#5a8fec" stroke="#6a6a6a" stroke-width="0.5" />
<rect x="75.74" y="258.96" width="3.685" height="28.34" fill="#5a8fec" stroke="#6a6a6a" stroke-width="0.5" />
<rect x="79.42" y="258.96" width="3.685" height="28.34" fill="#5a8fec" stroke="#6a6a6a" stroke-width="0.5" />
<rect x="83.11" y="261.91" width="3.685" height="25.39" fill="#5a8fec" stroke="#6a6a6a" stroke-width="0.5" />
<rect x="86.79" y="241.3" width="3.685" height="46.0" fill="#5a8fec" stroke="#6a6a6a" stroke-width="0.5" />
<rect x="90.47" y="265.22" width="3.685" height="22.08" fill="#5a8fec" stroke="#6a6a6a" stroke-width="0.5" />
<rect x="94.16" y="270.74" width="3.685" height="16.56" fill="#5a8fec" stroke="#6a6a6a" stroke-width="0.5" />
<rect x="97.84" y="274.42" width="3.685" height="12.88" fill="#5a8fec" stroke="#6a6a6a" stroke-width="0.5" />
<rect x="101.53" y="276.26" width="3.685" height="11.04" fill="#5a8fec" stroke="#6a6a6a" stroke-width="0.5" />
<rect x="105.22" y="279.94" width="3.685" height="7.36" fill="#5a8fec" stroke="#6a6a6a" stroke-width="0.5" />
<rect x="108.9" y="281.04" width="3.685" height="6.26" fill="#5a8fec" stroke="#6a6a6a" stroke-width="0.5" />
<rect x="112.59" y="282.52" width="3.685" height="4.78" fill="#5a8fec" stroke="#6a6a6a" stroke-width="0.5" />
<rect x="116.27" y="283.62" width="3.685" height="3.68" fill="#5a8fec" stroke="#6a6a6a" stroke-width="0.5" />
<rect x="119.95" y="284.72" width="3.685" height="2.58" fill="#5a8fec" stroke="#6a6a6a" stroke-width="0.5" />
<rect x="123.64" y="285.46" width="3.685" height="1.84" fill="#5a8fec" stroke="#6a6a6a" stroke-width="0.5" />
<rect x="127.33" y="286.2" width="3.685" height="1.1" fill="#5a8fec" stroke="#6a6a6a" stroke-width="0.5" />
<rect x="131.01" y="286.56" width="3.685" height="0.74" fill="#5a8fec" stroke="#6a6a6a" stroke-width="0.5" />
<rect x="78.5" y="254.55" width="0.92" height="32.75" fill="#b6b6b6" stroke="none" stroke-width="0" />
<line x1="79.42" y1="287.3" x2="79.42" y2="254.55" stroke="#6e6e6e" stroke-width="0.55" />
<rect x="79.42" y="257.36" width="3.69" height="29.94" fill="#b6b6b6" stroke="none" stroke-width="0" />
<line x1="79.42" y1="287.3" x2="79.42" y2="257.36" stroke="#6e6e6e" stroke-width="0.55" />
<line x1="83.11" y1="287.3" x2="83.11" y2="257.36" stroke="#6e6e6e" stroke-width="0.55" />
<rect x="83.11" y="261.05" width="3.69" height="26.25" fill="#b6b6b6" stroke="none" stroke-width="0" />
<line x1="83.11" y1="287.3" x2="83.11" y2="261.05" stroke="#6e6e6e" stroke-width="0.55" />
<line x1="86.79" y1="287.3" x2="86.79" y2="261.05" stroke="#6e6e6e" stroke-width="0.55" />
<rect x="86.79" y="265.22" width="3.69" height="22.08" fill="#b6b6b6" stroke="none" stroke-width="0" />
<line x1="86.79" y1="287.3" x2="86.79" y2="265.22" stroke="#6e6e6e" stroke-width="0.55" />
<line x1="90.48" y1="287.3" x2="90.48" y2="265.22" stroke="#6e6e6e" stroke-width="0.55" />
<rect x="90.47" y="269.51" width="3.69" height="17.79" fill="#b6b6b6" stroke="none" stroke-width="0" />
<line x1="90.47" y1="287.3" x2="90.47" y2="269.51" stroke="#6e6e6e" stroke-width="0.55" />
<line x1="94.16" y1="287.3" x2="94.16" y2="269.51" stroke="#6e6e6e" stroke-width="0.55" />
<rect x="94.16" y="273.7" width="3.69" height="13.6" fill="#b6b6b6" stroke="none" stroke-width="0" />
<line x1="94.16" y1="287.3" x2="94.16" y2="273.7" stroke="#6e6e6e" stroke-width="0.55" />
<line x1="97.84" y1="287.3" x2="97.84" y2="273.7" stroke="#6e6e6e" stroke-width="0.55" />
<rect x="97.84" y="277.39" width="3.69" height="9.91" fill="#b6b6b6" stroke="none" stroke-width="0" />
<line x1="97.84" y1="287.3" x2="97.84" y2="277.39" stroke="#6e6e6e" stroke-width="0.55" />
<line x1="101.53" y1="287.3" x2="101.53" y2="277.39" stroke="#6e6e6e" stroke-width="0.55" />
<rect x="101.53" y="280.35" width="3.69" height="6.95" fill="#b6b6b6" stroke="none" stroke-width="0" />
<line x1="101.53" y1="287.3" x2="101.53" y2="280.35" stroke="#6e6e6e" stroke-width="0.55" />
<line x1="105.22" y1="287.3" x2="105.22" y2="280.35" stroke="#6e6e6e" stroke-width="0.55" />
<rect x="105.22" y="282.57" width="3.69" height="4.73" fill="#b6b6b6" stroke="none" stroke-width="0" />
<line x1="105.22" y1="287.3" x2="105.22" y2="282.57" stroke="#6e6e6e" stroke-width="0.55" />
<line x1="108.9" y1="287.3" x2="108.9" y2="282.57" stroke="#6e6e6e" stroke-width="0.55" />
<rect x="108.9" y="284.12" width="3.69" height="3.18" fill="#b6b6b6" stroke="none" stroke-width="0" />
<line x1="108.9" y1="287.3" x2="108.9" y2="284.12" stroke="#6e6e6e" stroke-width="0.55" />
<line x1="112.59" y1="287.3" x2="112.59" y2="284.12" stroke="#6e6e6e" stroke-width="0.55" />
<rect x="112.59" y="285.1" width="3.69" height="2.2" fill="#b6b6b6" stroke="none" stroke-width="0" />
<line x1="112.59" y1="287.3" x2="112.59" y2="285.1" stroke="#6e6e6e" stroke-width="0.55" />
<line x1="116.27" y1="287.3" x2="116.27" y2="285.1" stroke="#6e6e6e" stroke-width="0.55" />
<rect x="116.27" y="285.87" width="3.69" height="1.43" fill="#b6b6b6" stroke="none" stroke-width="0" />
<line x1="116.27" y1="287.3" x2="116.27" y2="285.87" stroke="#6e6e6e" stroke-width="0.55" />
<line x1="119.96" y1="287.3" x2="119.96" y2="285.87" stroke="#6e6e6e" stroke-width="0.55" />
<rect x="119.95" y="286.41" width="3.69" height="0.89" fill="#b6b6b6" stroke="none" stroke-width="0" />
<line x1="119.95" y1="287.3" x2="119.95" y2="286.41" stroke="#6e6e6e" stroke-width="0.55" />
<line x1="123.64" y1="287.3" x2="123.64" y2="286.41" stroke="#6e6e6e" stroke-width="0.55" />
<rect x="123.64" y="286.84" width="3.69" height="0.46" fill="#b6b6b6" stroke="none" stroke-width="0" />
<line x1="123.64" y1="287.3" x2="123.64" y2="286.84" stroke="#6e6e6e" stroke-width="0.55" />
<line x1="127.33" y1="287.3" x2="127.33" y2="286.84" stroke="#6e6e6e" stroke-width="0.55" />
<path d="M43.50 287.40C44.05 287.23 45.55 287.53 46.80 286.40C48.05 285.27 49.60 282.93 51.00 280.60C52.40 278.27 53.80 275.13 55.20 272.40C56.60 269.67 58.00 266.73 59.40 264.20C60.80 261.67 62.03 259.07 63.60 257.20C65.17 255.33 67.23 253.77 68.80 253.00C70.37 252.23 71.80 252.53 73.00 252.60C74.20 252.67 74.70 252.68 76.00 253.40C77.30 254.12 79.18 255.50 80.80 256.90C82.42 258.30 84.08 260.05 85.70 261.80C87.32 263.55 88.88 265.52 90.50 267.40C92.12 269.28 93.78 271.35 95.40 273.10C97.02 274.85 98.60 276.48 100.20 277.90C101.80 279.32 103.38 280.60 105.00 281.60C106.62 282.60 108.02 283.23 109.90 283.90C111.78 284.57 113.88 285.12 116.30 285.60C118.72 286.08 120.87 286.52 124.40 286.80C127.93 287.08 135.32 287.22 137.50 287.30" fill="none" stroke="#222" stroke-width="0.8"/>
<rect x="141.49" y="282.88" width="3.685" height="4.42" fill="#f5a8f2" stroke="#6a6a6a" stroke-width="0.5" />
<rect x="145.17" y="258.6" width="3.685" height="28.7" fill="#f5a8f2" stroke="#6a6a6a" stroke-width="0.5" />
<rect x="148.86" y="254.18" width="3.685" height="33.12" fill="#f5a8f2" stroke="#6a6a6a" stroke-width="0.5" />
<rect x="152.54" y="249.4" width="3.685" height="37.9" fill="#f5a8f2" stroke="#6a6a6a" stroke-width="0.5" />
<rect x="156.23" y="233.94" width="3.685" height="53.36" fill="#f5a8f2" stroke="#6a6a6a" stroke-width="0.5" />
<rect x="159.91" y="255.28" width="3.685" height="32.02" fill="#f5a8f2" stroke="#6a6a6a" stroke-width="0.5" />
<rect x="163.6" y="271.48" width="3.685" height="15.82" fill="#f5a8f2" stroke="#6a6a6a" stroke-width="0.5" />
<rect x="167.28" y="263.75" width="3.685" height="23.55" fill="#f5a8f2" stroke="#6a6a6a" stroke-width="0.5" />
<rect x="170.97" y="268.9" width="3.685" height="18.4" fill="#f5a8f2" stroke="#6a6a6a" stroke-width="0.5" />
<rect x="174.65" y="270.74" width="3.685" height="16.56" fill="#f5a8f2" stroke="#6a6a6a" stroke-width="0.5" />
<rect x="178.34" y="270.74" width="3.685" height="16.56" fill="#f5a8f2" stroke="#6a6a6a" stroke-width="0.5" />
<rect x="182.02" y="268.9" width="3.685" height="18.4" fill="#f5a8f2" stroke="#6a6a6a" stroke-width="0.5" />
<rect x="185.71" y="264.85" width="3.685" height="22.45" fill="#f5a8f2" stroke="#6a6a6a" stroke-width="0.5" />
<rect x="189.39" y="274.79" width="3.685" height="12.51" fill="#f5a8f2" stroke="#6a6a6a" stroke-width="0.5" />
<rect x="193.08" y="279.57" width="3.685" height="7.73" fill="#f5a8f2" stroke="#6a6a6a" stroke-width="0.5" />
<rect x="196.76" y="274.42" width="3.685" height="12.88" fill="#f5a8f2" stroke="#6a6a6a" stroke-width="0.5" />
<rect x="200.45" y="281.41" width="3.685" height="5.89" fill="#f5a8f2" stroke="#6a6a6a" stroke-width="0.5" />
<rect x="204.13" y="281.04" width="3.685" height="6.26" fill="#f5a8f2" stroke="#6a6a6a" stroke-width="0.5" />
<rect x="207.81" y="282.15" width="3.685" height="5.15" fill="#f5a8f2" stroke="#6a6a6a" stroke-width="0.5" />
<rect x="211.5" y="285.83" width="3.685" height="1.47" fill="#f5a8f2" stroke="#6a6a6a" stroke-width="0.5" />
<rect x="215.19" y="286.2" width="3.685" height="1.1" fill="#f5a8f2" stroke="#6a6a6a" stroke-width="0.5" />
<rect x="218.87" y="286.56" width="3.685" height="0.74" fill="#f5a8f2" stroke="#6a6a6a" stroke-width="0.5" />
<rect x="222.56" y="286.93" width="3.685" height="0.37" fill="#f5a8f2" stroke="#6a6a6a" stroke-width="0.5" />
<rect x="141.49" y="280.69" width="2.11" height="6.61" fill="#b6b6b6" stroke="none" stroke-width="0" />
<line x1="141.49" y1="287.3" x2="141.49" y2="280.69" stroke="#6e6e6e" stroke-width="0.55" />
<rect x="173.0" y="260.74" width="1.65" height="26.56" fill="#b6b6b6" stroke="none" stroke-width="0" />
<line x1="174.65" y1="287.3" x2="174.65" y2="260.74" stroke="#6e6e6e" stroke-width="0.55" />
<rect x="174.65" y="264.65" width="3.69" height="22.65" fill="#b6b6b6" stroke="none" stroke-width="0" />
<line x1="174.65" y1="287.3" x2="174.65" y2="264.65" stroke="#6e6e6e" stroke-width="0.55" />
<line x1="178.34" y1="287.3" x2="178.34" y2="264.65" stroke="#6e6e6e" stroke-width="0.55" />
<rect x="178.34" y="267.93" width="3.69" height="19.37" fill="#b6b6b6" stroke="none" stroke-width="0" />
<line x1="178.34" y1="287.3" x2="178.34" y2="267.93" stroke="#6e6e6e" stroke-width="0.55" />
<line x1="182.02" y1="287.3" x2="182.02" y2="267.93" stroke="#6e6e6e" stroke-width="0.55" />
<rect x="182.02" y="271.08" width="3.69" height="16.22" fill="#b6b6b6" stroke="none" stroke-width="0" />
<line x1="182.02" y1="287.3" x2="182.02" y2="271.08" stroke="#6e6e6e" stroke-width="0.55" />
<line x1="185.71" y1="287.3" x2="185.71" y2="271.08" stroke="#6e6e6e" stroke-width="0.55" />
<rect x="185.71" y="274.39" width="3.69" height="12.91" fill="#b6b6b6" stroke="none" stroke-width="0" />
<line x1="185.71" y1="287.3" x2="185.71" y2="274.39" stroke="#6e6e6e" stroke-width="0.55" />
<line x1="189.39" y1="287.3" x2="189.39" y2="274.39" stroke="#6e6e6e" stroke-width="0.55" />
<rect x="189.39" y="277.16" width="3.69" height="10.14" fill="#b6b6b6" stroke="none" stroke-width="0" />
<line x1="189.39" y1="287.3" x2="189.39" y2="277.16" stroke="#6e6e6e" stroke-width="0.55" />
<line x1="193.08" y1="287.3" x2="193.08" y2="277.16" stroke="#6e6e6e" stroke-width="0.55" />
<rect x="193.08" y="279.45" width="3.69" height="7.85" fill="#b6b6b6" stroke="none" stroke-width="0" />
<line x1="193.08" y1="287.3" x2="193.08" y2="279.45" stroke="#6e6e6e" stroke-width="0.55" />
<line x1="196.76" y1="287.3" x2="196.76" y2="279.45" stroke="#6e6e6e" stroke-width="0.55" />
<rect x="196.76" y="281.48" width="3.69" height="5.82" fill="#b6b6b6" stroke="none" stroke-width="0" />
<line x1="196.76" y1="287.3" x2="196.76" y2="281.48" stroke="#6e6e6e" stroke-width="0.55" />
<line x1="200.45" y1="287.3" x2="200.45" y2="281.48" stroke="#6e6e6e" stroke-width="0.55" />
<rect x="200.45" y="283.09" width="3.69" height="4.21" fill="#b6b6b6" stroke="none" stroke-width="0" />
<line x1="200.45" y1="287.3" x2="200.45" y2="283.09" stroke="#6e6e6e" stroke-width="0.55" />
<line x1="204.13" y1="287.3" x2="204.13" y2="283.09" stroke="#6e6e6e" stroke-width="0.55" />
<rect x="204.13" y="284.21" width="3.69" height="3.09" fill="#b6b6b6" stroke="none" stroke-width="0" />
<line x1="204.13" y1="287.3" x2="204.13" y2="284.21" stroke="#6e6e6e" stroke-width="0.55" />
<line x1="207.81" y1="287.3" x2="207.81" y2="284.21" stroke="#6e6e6e" stroke-width="0.55" />
<rect x="207.81" y="285.09" width="3.69" height="2.21" fill="#b6b6b6" stroke="none" stroke-width="0" />
<line x1="207.81" y1="287.3" x2="207.81" y2="285.09" stroke="#6e6e6e" stroke-width="0.55" />
<line x1="211.5" y1="287.3" x2="211.5" y2="285.09" stroke="#6e6e6e" stroke-width="0.55" />
<rect x="211.5" y="285.71" width="3.69" height="1.59" fill="#b6b6b6" stroke="none" stroke-width="0" />
<line x1="211.5" y1="287.3" x2="211.5" y2="285.71" stroke="#6e6e6e" stroke-width="0.55" />
<line x1="215.19" y1="287.3" x2="215.19" y2="285.71" stroke="#6e6e6e" stroke-width="0.55" />
<rect x="215.19" y="286.32" width="3.69" height="0.98" fill="#b6b6b6" stroke="none" stroke-width="0" />
<line x1="215.19" y1="287.3" x2="215.19" y2="286.32" stroke="#6e6e6e" stroke-width="0.55" />
<line x1="218.87" y1="287.3" x2="218.87" y2="286.32" stroke="#6e6e6e" stroke-width="0.55" />
<rect x="218.87" y="286.58" width="3.69" height="0.72" fill="#b6b6b6" stroke="none" stroke-width="0" />
<line x1="218.87" y1="287.3" x2="218.87" y2="286.58" stroke="#6e6e6e" stroke-width="0.55" />
<line x1="222.56" y1="287.3" x2="222.56" y2="286.58" stroke="#6e6e6e" stroke-width="0.55" />
<rect x="222.56" y="286.79" width="3.69" height="0.51" fill="#b6b6b6" stroke="none" stroke-width="0" />
<line x1="222.56" y1="287.3" x2="222.56" y2="286.79" stroke="#6e6e6e" stroke-width="0.55" />
<line x1="226.24" y1="287.3" x2="226.24" y2="286.79" stroke="#6e6e6e" stroke-width="0.55" />
<path d="M139.50 287.40C139.83 287.05 140.82 286.53 141.50 285.30C142.18 284.07 142.70 282.80 143.60 280.00C144.50 277.20 145.63 272.30 146.90 268.50C148.17 264.70 149.77 259.90 151.20 257.20C152.63 254.50 154.10 253.33 155.50 252.30C156.90 251.27 157.98 250.87 159.60 251.00C161.22 251.13 163.18 251.68 165.20 253.10C167.22 254.52 170.07 257.82 171.70 259.50C173.33 261.18 173.92 262.07 175.00 263.20C176.08 264.33 176.92 265.17 178.20 266.30C179.48 267.43 181.27 268.75 182.70 270.00C184.13 271.25 185.50 272.68 186.80 273.80C188.10 274.92 189.13 275.75 190.50 276.70C191.87 277.65 193.72 278.73 195.00 279.50C196.28 280.27 197.03 280.72 198.20 281.30C199.37 281.88 200.38 282.42 202.00 283.00C203.62 283.58 205.32 284.23 207.90 284.80C210.48 285.37 213.82 286.02 217.50 286.40C221.18 286.78 226.08 286.93 230.00 287.10C233.92 287.27 239.17 287.35 241.00 287.40" fill="none" stroke="#222" stroke-width="0.8"/>
<line x1="35.2" y1="139.0" x2="35.2" y2="287.3" stroke="#555" stroke-width="0.8" />
<line x1="137.8" y1="139.0" x2="137.8" y2="287.3" stroke="#555" stroke-width="0.8" />
<line x1="35.2" y1="287.3" x2="241.48000000000002" y2="287.3" stroke="#444" stroke-width="0.8" />
<line x1="42.8" y1="139.0" x2="42.8" y2="287.3" stroke="#777" stroke-width="0.8" />
<line x1="78.5" y1="139.0" x2="78.5" y2="287.3" stroke="#777" stroke-width="0.8" />
<line x1="143.6" y1="139.0" x2="143.6" y2="287.3" stroke="#777" stroke-width="0.8" />
<line x1="173.0" y1="139.0" x2="173.0" y2="287.3" stroke="#777" stroke-width="0.8" />
<text x="34.6" y="164.8" font-size="5.5" text-anchor="start" font-weight="bold" stroke="#000" stroke-width="0.12" fill="#000" >10%</text>
<text x="78.5" y="164.8" font-size="5.5" text-anchor="start" font-weight="bold" stroke="#000" stroke-width="0.12" fill="#000" >10%</text>
<text x="137.7" y="164.8" font-size="5.5" text-anchor="start" font-weight="bold" stroke="#000" stroke-width="0.12" fill="#000" >10%</text>
<text x="172.6" y="164.8" font-size="5.5" text-anchor="start" font-weight="bold" stroke="#000" stroke-width="0.12" fill="#000" >10%</text>
<text x="87" y="136.0" font-size="8.0" text-anchor="middle" font-weight="bold" stroke="#000" stroke-width="0.12" fill="#000" >Male</text>
<text x="189.7" y="136.0" font-size="8.0" text-anchor="middle" font-weight="bold" stroke="#000" stroke-width="0.12" fill="#000" >Female</text>
<text x="134.0" y="149.7" font-size="8.3" text-anchor="end" font-weight="bold" stroke="#000" stroke-width="0.12" fill="#000" >F1C</text>
<text x="238.9" y="149.7" font-size="8.3" text-anchor="end" font-weight="bold" stroke="#000" stroke-width="0.12" fill="#000" >F1C</text>
<text x="135.4" y="223.8" font-size="8.3" text-anchor="end" font-weight="bold" stroke="#000" stroke-width="0.12" fill="#000" >F1MO</text>
<text x="239.7" y="223.8" font-size="8.3" text-anchor="end" font-weight="bold" stroke="#000" stroke-width="0.12" fill="#000" >F1MO</text>
<line x1="38.7" y1="228.7" x2="38.7" y2="232.5" stroke="#444" stroke-width="1.15" />
<line x1="37.05" y1="229.65" x2="40.35" y2="231.55" stroke="#444" stroke-width="1.15" />
<line x1="37.05" y1="231.55" x2="40.35" y2="229.65" stroke="#444" stroke-width="1.15" />
<line x1="88.2" y1="228.3" x2="88.2" y2="232.1" stroke="#444" stroke-width="1.15" />
<line x1="86.55" y1="229.25" x2="89.85" y2="231.15" stroke="#444" stroke-width="1.15" />
<line x1="86.55" y1="231.15" x2="89.85" y2="229.25" stroke="#444" stroke-width="1.15" />
<line x1="141.3" y1="227.5" x2="141.3" y2="231.3" stroke="#444" stroke-width="1.15" />
<line x1="139.65" y1="228.45" x2="142.95" y2="230.35" stroke="#444" stroke-width="1.15" />
<line x1="139.65" y1="230.35" x2="142.95" y2="228.45" stroke="#444" stroke-width="1.15" />
<line x1="179.2" y1="227.5" x2="179.2" y2="231.3" stroke="#444" stroke-width="1.15" />
<line x1="177.55" y1="228.45" x2="180.85" y2="230.35" stroke="#444" stroke-width="1.15" />
<line x1="177.55" y1="230.35" x2="180.85" y2="228.45" stroke="#444" stroke-width="1.15" />
<text x="32.9" y="240.2" font-size="5.5" text-anchor="start" font-weight="bold" stroke="#000" stroke-width="0.12" fill="#000" >0.02 %</text>
<text x="83.3" y="240.2" font-size="5.5" text-anchor="start" font-weight="bold" stroke="#000" stroke-width="0.12" fill="#000" >47 %</text>
<text x="138.4" y="240.2" font-size="5.5" text-anchor="start" font-weight="bold" stroke="#000" stroke-width="0.12" fill="#000" >2 %</text>
<text x="175.0" y="240.2" font-size="5.5" text-anchor="start" font-weight="bold" stroke="#000" stroke-width="0.12" fill="#000" >34 %</text>
<text x="279.1" y="130.6" font-size="8.2" text-anchor="start" font-weight="bold" stroke="#000" stroke-width="0.12" fill="#000" >D</text>
<text x="0" y="0" font-size="7.0" text-anchor="middle" stroke="#000" stroke-width="0.07" fill="#000" transform="translate(285.6,218.3) rotate(-90)">Retroperitoneal Adipose Tissue Micrograph 20X</text>
<text x="366.9" y="136.1" font-size="7.9" text-anchor="middle" font-weight="bold" stroke="#000" stroke-width="0.12" fill="#000" >Male</text>
<text x="473.0" y="136.1" font-size="7.9" text-anchor="middle" font-weight="bold" stroke="#000" stroke-width="0.12" fill="#000" >Female</text>
<text x="310.4" y="182.3" font-size="7.8" text-anchor="end" font-weight="bold" stroke="#000" stroke-width="0.12" fill="#000" >F1C</text>
<text x="310.9" y="261.5" font-size="7.8" text-anchor="end" font-weight="bold" stroke="#000" stroke-width="0.12" fill="#000" >F1MO</text>
<defs><filter id="soft" x="-5%" y="-5%" width="110%" height="110%"><feGaussianBlur stdDeviation="0.4"/></filter>
<clipPath id="cMF1C"><rect x="314.6" y="139.8" width="104.89999999999998" height="78.5"/></clipPath>
<clipPath id="cFF1C"><rect x="419.5" y="139.8" width="105.10000000000002" height="78.5"/></clipPath>
<clipPath id="cMF1MO"><rect x="314.6" y="218.3" width="104.89999999999998" height="78.89999999999998"/></clipPath>
<clipPath id="cFF1MO"><rect x="419.5" y="218.3" width="105.10000000000002" height="78.89999999999998"/></clipPath>
</defs>
<g clip-path="url(#cMF1C)">
<rect x="314.6" y="139.8" width="104.89999999999998" height="78.5" fill="#ebd0e0" stroke="none" stroke-width="1" />
<g filter="url(#soft)">
<path d="M327.1 143.7L332.5 151.3L330.0 157.3L313.9 158.0L313.9 151.3Z" fill="#d093ba" stroke="#d093ba" stroke-width="6.80" stroke-linejoin="round"/>
<path d="M327.1 143.7L332.5 151.3L330.0 157.3L313.9 158.0L313.9 151.3Z" fill="#d8e5e6" stroke="#d8e5e6" stroke-width="5.60" stroke-linejoin="round"/>
<path d="M346.0 149.6L349.4 162.0L348.0 164.1L340.7 165.3L336.1 159.9L338.8 153.2Z" fill="#d093ba" stroke="#d093ba" stroke-width="6.80" stroke-linejoin="round"/>
<path d="M346.0 149.6L349.4 162.0L348.0 164.1L340.7 165.3L336.1 159.9L338.8 153.2Z" fill="#e2f3f3" stroke="#e2f3f3" stroke-width="5.60" stroke-linejoin="round"/>
<path d="M354.3 139.1L364.1 139.1L365.3 156.9L355.4 158.8L351.6 145.1Z" fill="#d093ba" stroke="#d093ba" stroke-width="6.80" stroke-linejoin="round"/>
<path d="M354.3 139.1L364.1 139.1L365.3 156.9L355.4 158.8L351.6 145.1Z" fill="#e2f3f3" stroke="#e2f3f3" stroke-width="5.60" stroke-linejoin="round"/>
<path d="M370.7 139.1L381.1 139.1L383.8 153.7L379.4 158.0L372.0 157.8Z" fill="#d093ba" stroke="#d093ba" stroke-width="6.80" stroke-linejoin="round"/>
<path d="M370.7 139.1L381.1 139.1L383.8 153.7L379.4 158.0L372.0 157.8Z" fill="#e2f3f3" stroke="#e2f3f3" stroke-width="5.60" stroke-linejoin="round"/>
<path d="M387.8 139.1L400.1 139.1L397.3 153.4L390.2 152.0Z" fill="#d093ba" stroke="#d093ba" stroke-width="6.80" stroke-linejoin="round"/>
<path d="M387.8 139.1L400.1 139.1L397.3 153.4L390.2 152.0Z" fill="#e2f3f3" stroke="#e2f3f3" stroke-width="5.60" stroke-linejoin="round"/>
<path d="M406.8 139.1L420.2 139.1L420.2 156.5L403.4 156.5L403.4 156.5Z" fill="#d093ba" stroke="#d093ba" stroke-width="6.80" stroke-linejoin="round"/>
<path d="M406.8 139.1L420.2 139.1L420.2 156.5L403.4 156.5L403.4 156.5Z" fill="#e2f3f3" stroke="#e2f3f3" stroke-width="5.60" stroke-linejoin="round"/>
<path d="M354.0 167.1L355.0 165.6L367.4 163.2L367.8 172.8L359.7 175.1Z" fill="#d093ba" stroke="#d093ba" stroke-width="6.80" stroke-linejoin="round"/>
<path d="M354.0 167.1L355.0 165.6L367.4 163.2L367.8 172.8L359.7 175.1Z" fill="#e2f3f3" stroke="#e2f3f3" stroke-width="5.60" stroke-linejoin="round"/>
<path d="M374.4 173.6L374.0 164.4L378.3 164.6L381.3 174.1L376.8 175.5Z" fill="#d093ba" stroke="#d093ba" stroke-width="6.80" stroke-linejoin="round"/>
<path d="M374.4 173.6L374.0 164.4L378.3 164.6L381.3 174.1L376.8 175.5Z" fill="#e2f3f3" stroke="#e2f3f3" stroke-width="5.60" stroke-linejoin="round"/>
<path d="M388.1 173.6L384.5 162.3L388.5 158.4L398.0 160.2L398.2 160.5L396.0 172.0L391.3 174.6Z" fill="#d093ba" stroke="#d093ba" stroke-width="6.80" stroke-linejoin="round"/>
<path d="M388.1 173.6L384.5 162.3L388.5 158.4L398.0 160.2L398.2 160.5L396.0 172.0L391.3 174.6Z" fill="#e2f3f3" stroke="#e2f3f3" stroke-width="5.60" stroke-linejoin="round"/>
<path d="M420.2 163.1L420.2 173.5L410.6 175.7L402.6 172.2L404.4 163.1Z" fill="#d093ba" stroke="#d093ba" stroke-width="6.80" stroke-linejoin="round"/>
<path d="M420.2 163.1L420.2 173.5L410.6 175.7L402.6 172.2L404.4 163.1Z" fill="#e2f3f3" stroke="#e2f3f3" stroke-width="5.60" stroke-linejoin="round"/>
<path d="M313.9 183.5L313.9 164.6L330.8 163.8L335.5 169.4L330.6 181.1Z" fill="#d093ba" stroke="#d093ba" stroke-width="6.80" stroke-linejoin="round"/>
<path d="M313.9 183.5L313.9 164.6L330.8 163.8L335.5 169.4L330.6 181.1Z" fill="#e2f3f3" stroke="#e2f3f3" stroke-width="5.60" stroke-linejoin="round"/>
<path d="M336.9 183.2L341.7 171.8L348.5 170.7L354.9 179.8L354.1 185.8L341.5 187.6Z" fill="#d093ba" stroke="#d093ba" stroke-width="6.80" stroke-linejoin="round"/>
<path d="M336.9 183.2L341.7 171.8L348.5 170.7L354.9 179.8L354.1 185.8L341.5 187.6Z" fill="#e2f3f3" stroke="#e2f3f3" stroke-width="5.60" stroke-linejoin="round"/>
<path d="M360.8 186.1L361.4 181.5L370.5 178.9L372.2 180.3L369.9 186.5Z" fill="#d093ba" stroke="#d093ba" stroke-width="6.80" stroke-linejoin="round"/>
<path d="M360.8 186.1L361.4 181.5L370.5 178.9L372.2 180.3L369.9 186.5Z" fill="#e2f3f3" stroke="#e2f3f3" stroke-width="5.60" stroke-linejoin="round"/>
<path d="M377.8 194.1L375.8 189.8L378.7 181.8L385.5 179.7L388.8 180.7L390.8 190.7L387.6 195.2Z" fill="#d093ba" stroke="#d093ba" stroke-width="6.80" stroke-linejoin="round"/>
<path d="M377.8 194.1L375.8 189.8L378.7 181.8L385.5 179.7L388.8 180.7L390.8 190.7L387.6 195.2Z" fill="#e2f3f3" stroke="#e2f3f3" stroke-width="5.60" stroke-linejoin="round"/>
<path d="M397.1 188.6L395.3 179.9L399.1 177.8L406.5 181.1L404.6 189.9Z" fill="#d093ba" stroke="#d093ba" stroke-width="6.80" stroke-linejoin="round"/>
<path d="M397.1 188.6L395.3 179.9L399.1 177.8L406.5 181.1L404.6 189.9Z" fill="#e2f3f3" stroke="#e2f3f3" stroke-width="5.60" stroke-linejoin="round"/>
<path d="M420.2 180.3L420.2 194.6L412.4 194.6L410.7 192.7L413.1 181.9Z" fill="#d093ba" stroke="#d093ba" stroke-width="6.80" stroke-linejoin="round"/>
<path d="M420.2 180.3L420.2 194.6L412.4 194.6L410.7 192.7L413.1 181.9Z" fill="#e2f3f3" stroke="#e2f3f3" stroke-width="5.60" stroke-linejoin="round"/>
<path d="M313.9 195.9L313.9 190.2L331.9 187.6L337.2 192.5L337.5 200.4L330.8 206.2Z" fill="#d093ba" stroke="#d093ba" stroke-width="6.80" stroke-linejoin="round"/>
<path d="M313.9 195.9L313.9 190.2L331.9 187.6L337.2 192.5L337.5 200.4L330.8 206.2Z" fill="#e2f3f3" stroke="#e2f3f3" stroke-width="5.60" stroke-linejoin="round"/>
<path d="M344.1 200.0L343.8 193.9L354.4 192.4L354.8 203.5L353.2 205.4Z" fill="#d093ba" stroke="#d093ba" stroke-width="6.80" stroke-linejoin="round"/>
<path d="M344.1 200.0L343.8 193.9L354.4 192.4L354.8 203.5L353.2 205.4Z" fill="#e2f3f3" stroke="#e2f3f3" stroke-width="5.60" stroke-linejoin="round"/>
<path d="M361.3 201.4L361.0 192.7L370.0 193.1L371.9 197.1L369.6 201.4Z" fill="#d093ba" stroke="#d093ba" stroke-width="6.80" stroke-linejoin="round"/>
<path d="M361.3 201.4L361.0 192.7L370.0 193.1L371.9 197.1L369.6 201.4Z" fill="#e2f3f3" stroke="#e2f3f3" stroke-width="5.60" stroke-linejoin="round"/>
<path d="M379.6 215.9L375.3 204.9L377.4 200.7L386.6 201.8L387.2 203.9Z" fill="#d093ba" stroke="#d093ba" stroke-width="6.80" stroke-linejoin="round"/>
<path d="M379.6 215.9L375.3 204.9L377.4 200.7L386.6 201.8L387.2 203.9Z" fill="#e2f3f3" stroke="#e2f3f3" stroke-width="5.60" stroke-linejoin="round"/>
<path d="M393.6 202.2L392.8 199.4L395.8 195.1L405.4 196.7L406.9 198.4L402.6 206.7Z" fill="#d093ba" stroke="#d093ba" stroke-width="6.80" stroke-linejoin="round"/>
<path d="M393.6 202.2L392.8 199.4L395.8 195.1L405.4 196.7L406.9 198.4L402.6 206.7Z" fill="#e2f3f3" stroke="#e2f3f3" stroke-width="5.60" stroke-linejoin="round"/>
<path d="M328.3 219.0L313.9 219.0L313.9 203.6L327.9 212.2Z" fill="#d093ba" stroke="#d093ba" stroke-width="6.80" stroke-linejoin="round"/>
<path d="M328.3 219.0L313.9 219.0L313.9 203.6L327.9 212.2Z" fill="#e2f3f3" stroke="#e2f3f3" stroke-width="5.60" stroke-linejoin="round"/>
<path d="M350.5 219.0L334.9 219.0L334.5 211.7L341.2 206.0L350.5 211.5Z" fill="#d093ba" stroke="#d093ba" stroke-width="6.80" stroke-linejoin="round"/>
<path d="M350.5 219.0L334.9 219.0L334.5 211.7L341.2 206.0L350.5 211.5Z" fill="#e2f3f3" stroke="#e2f3f3" stroke-width="5.60" stroke-linejoin="round"/>
<path d="M373.8 219.0L357.1 219.0L357.1 210.8L359.7 208.0L369.4 208.0Z" fill="#d093ba" stroke="#d093ba" stroke-width="6.80" stroke-linejoin="round"/>
<path d="M373.8 219.0L357.1 219.0L357.1 210.8L359.7 208.0L369.4 208.0Z" fill="#e2f3f3" stroke="#e2f3f3" stroke-width="5.60" stroke-linejoin="round"/>
<path d="M420.2 201.2L420.2 219.0L409.3 219.0L407.5 211.6L412.9 201.2Z" fill="#d093ba" stroke="#d093ba" stroke-width="6.80" stroke-linejoin="round"/>
<path d="M420.2 201.2L420.2 219.0L409.3 219.0L407.5 211.6L412.9 201.2Z" fill="#e2f3f3" stroke="#e2f3f3" stroke-width="5.60" stroke-linejoin="round"/>
<path d="M402.5 219.0L385.5 219.0L392.0 208.7L401.2 213.4Z" fill="#d093ba" stroke="#d093ba" stroke-width="6.80" stroke-linejoin="round"/>
<path d="M402.5 219.0L385.5 219.0L392.0 208.7L401.2 213.4Z" fill="#e2f3f3" stroke="#e2f3f3" stroke-width="5.60" stroke-linejoin="round"/>
<path d="M331.9 139.1L347.0 139.1L345.5 142.4L337.3 146.6Z" fill="#d093ba" stroke="#d093ba" stroke-width="6.80" stroke-linejoin="round"/>
<path d="M331.9 139.1L347.0 139.1L345.5 142.4L337.3 146.6Z" fill="#e2f3f3" stroke="#e2f3f3" stroke-width="5.60" stroke-linejoin="round"/>
<path d="M313.9 139.1L321.9 139.1L313.9 143.7Z" fill="#d093ba" stroke="#d093ba" stroke-width="6.80" stroke-linejoin="round"/>
<path d="M313.9 139.1L321.9 139.1L313.9 143.7Z" fill="#e2f3f3" stroke="#e2f3f3" stroke-width="5.60" stroke-linejoin="round"/>
<circle cx="410.3" cy="179.2" r="2.34" fill="#e5b8d3" opacity="0.75"/>
<circle cx="368.8" cy="159.6" r="1.26" fill="#e5b8d3" opacity="0.75"/>
<circle cx="410.9" cy="197.9" r="1.40" fill="#e5b8d3" opacity="0.75"/>
<circle cx="336.2" cy="150.8" r="1.68" fill="#e5b8d3" opacity="0.75"/>
<circle cx="358.4" cy="179.0" r="2.57" fill="#e5b8d3" opacity="0.75"/>
<circle cx="339.4" cy="168.9" r="2.52" fill="#e5b8d3" opacity="0.75"/>
<circle cx="357.1" cy="188.7" r="2.44" fill="#e5b8d3" opacity="0.75"/>
<circle cx="371.6" cy="204.7" r="1.52" fill="#e5b8d3" opacity="0.75"/>
<circle cx="404.0" cy="211.1" r="2.52" fill="#e5b8d3" opacity="0.75"/>
<circle cx="385.5" cy="176.3" r="2.47" fill="#e5b8d3" opacity="0.75"/>
<circle cx="332.2" cy="160.5" r="2.55" fill="#e5b8d3" opacity="0.75"/>
<circle cx="380.8" cy="161.4" r="2.02" fill="#e5b8d3" opacity="0.75"/>
<circle cx="333.0" cy="184.1" r="2.32" fill="#e5b8d3" opacity="0.75"/>
<circle cx="353.0" cy="162.6" r="2.14" fill="#e5b8d3" opacity="0.75"/>
<circle cx="358.2" cy="204.7" r="1.55" fill="#e5b8d3" opacity="0.75"/>
<circle cx="391.6" cy="178.1" r="1.44" fill="#e5b8d3" opacity="0.75"/>
<circle cx="398.9" cy="174.1" r="1.48" fill="#e5b8d3" opacity="0.75"/>
<circle cx="340.8" cy="201.9" r="1.68" fill="#e5b8d3" opacity="0.75"/>
<circle cx="340.4" cy="191.1" r="1.78" fill="#e5b8d3" opacity="0.75"/>
<circle cx="389.2" cy="198.8" r="2.07" fill="#e5b8d3" opacity="0.75"/>
<circle cx="357.6" cy="189.2" r="1.24" fill="#e5b8d3" opacity="0.75"/>
<circle cx="401.7" cy="159.8" r="2.57" fill="#e5b8d3" opacity="0.75"/>
<circle cx="390.8" cy="204.4" r="1.68" fill="#e5b8d3" opacity="0.75"/>
<circle cx="399.9" cy="157.2" r="2.42" fill="#e5b8d3" opacity="0.75"/>
<circle cx="331.1" cy="210.3" r="2.22" fill="#e5b8d3" opacity="0.75"/>
<line x1="310.6" y1="161.4" x2="332.2" y2="160.5" stroke="#e5b8d3" stroke-width="1.96" opacity="0.55" stroke-linecap="round"/>
<line x1="310.6" y1="149.4" x2="328.0" y2="139.3" stroke="#e5b8d3" stroke-width="2.57" opacity="0.55" stroke-linecap="round"/>
<line x1="348.0" y1="144.8" x2="353.0" y2="162.6" stroke="#e5b8d3" stroke-width="2.25" opacity="0.55" stroke-linecap="round"/>
<line x1="332.2" y1="160.5" x2="339.4" y2="168.9" stroke="#e5b8d3" stroke-width="2.17" opacity="0.55" stroke-linecap="round"/>
<line x1="336.2" y1="150.8" x2="348.0" y2="144.8" stroke="#e5b8d3" stroke-width="1.88" opacity="0.55" stroke-linecap="round"/>
<line x1="352.2" y1="135.8" x2="367.2" y2="135.8" stroke="#e5b8d3" stroke-width="2.03" opacity="0.55" stroke-linecap="round"/>
<line x1="353.0" y1="162.6" x2="368.8" y2="159.6" stroke="#e5b8d3" stroke-width="2.49" opacity="0.55" stroke-linecap="round"/>
<line x1="367.2" y1="135.8" x2="383.8" y2="135.8" stroke="#e5b8d3" stroke-width="2.25" opacity="0.55" stroke-linecap="round"/>
<line x1="368.8" y1="159.6" x2="370.6" y2="161.0" stroke="#e5b8d3" stroke-width="2.91" opacity="0.55" stroke-linecap="round"/>
<line x1="370.6" y1="161.0" x2="371.2" y2="175.3" stroke="#e5b8d3" stroke-width="2.38" opacity="0.55" stroke-linecap="round"/>
<line x1="350.0" y1="167.1" x2="358.4" y2="179.0" stroke="#e5b8d3" stroke-width="2.54" opacity="0.55" stroke-linecap="round"/>
<line x1="376.2" y1="179.2" x2="385.5" y2="176.3" stroke="#e5b8d3" stroke-width="1.83" opacity="0.55" stroke-linecap="round"/>
<line x1="423.5" y1="159.8" x2="423.5" y2="176.2" stroke="#e5b8d3" stroke-width="1.89" opacity="0.55" stroke-linecap="round"/>
<line x1="357.1" y1="188.7" x2="358.4" y2="179.0" stroke="#e5b8d3" stroke-width="2.00" opacity="0.55" stroke-linecap="round"/>
<line x1="372.2" y1="189.9" x2="375.5" y2="197.2" stroke="#e5b8d3" stroke-width="2.52" opacity="0.55" stroke-linecap="round"/>
<line x1="407.1" y1="193.6" x2="410.3" y2="179.2" stroke="#e5b8d3" stroke-width="2.99" opacity="0.55" stroke-linecap="round"/>
<line x1="394.3" y1="191.5" x2="407.1" y2="193.6" stroke="#e5b8d3" stroke-width="2.69" opacity="0.55" stroke-linecap="round"/>
<line x1="407.1" y1="193.6" x2="410.9" y2="197.9" stroke="#e5b8d3" stroke-width="2.73" opacity="0.55" stroke-linecap="round"/>
<line x1="353.8" y1="209.6" x2="358.2" y2="204.7" stroke="#e5b8d3" stroke-width="1.88" opacity="0.55" stroke-linecap="round"/>
<line x1="371.6" y1="204.7" x2="375.5" y2="197.2" stroke="#e5b8d3" stroke-width="2.93" opacity="0.55" stroke-linecap="round"/>
<line x1="371.6" y1="204.7" x2="378.7" y2="222.3" stroke="#e5b8d3" stroke-width="2.40" opacity="0.55" stroke-linecap="round"/>
<line x1="389.2" y1="198.8" x2="390.8" y2="204.4" stroke="#e5b8d3" stroke-width="1.96" opacity="0.55" stroke-linecap="round"/>
<line x1="353.8" y1="222.3" x2="378.7" y2="222.3" stroke="#e5b8d3" stroke-width="2.78" opacity="0.55" stroke-linecap="round"/>
<line x1="423.5" y1="197.9" x2="423.5" y2="222.3" stroke="#e5b8d3" stroke-width="2.62" opacity="0.55" stroke-linecap="round"/>
<line x1="379.5" y1="222.3" x2="406.7" y2="222.3" stroke="#e5b8d3" stroke-width="2.90" opacity="0.55" stroke-linecap="round"/>
<line x1="328.5" y1="135.8" x2="352.2" y2="135.8" stroke="#e5b8d3" stroke-width="2.95" opacity="0.55" stroke-linecap="round"/>
<line x1="328.0" y1="139.3" x2="328.5" y2="135.8" stroke="#e5b8d3" stroke-width="2.05" opacity="0.55" stroke-linecap="round"/>
<ellipse cx="348.0" cy="144.8" rx="1.0" ry="0.85" fill="#9a3a78"/>
<ellipse cx="332.2" cy="160.5" rx="1.0" ry="0.85" fill="#9a3a78"/>
<ellipse cx="332.2" cy="160.5" rx="1.0" ry="0.85" fill="#9a3a78"/>
<ellipse cx="350.0" cy="167.1" rx="1.0" ry="0.85" fill="#9a3a78"/>
<ellipse cx="332.2" cy="160.5" rx="1.0" ry="0.85" fill="#9a3a78"/>
<ellipse cx="399.9" cy="157.2" rx="1.0" ry="0.85" fill="#9a3a78"/>
<ellipse cx="387.4" cy="154.8" rx="1.0" ry="0.85" fill="#9a3a78"/>
<ellipse cx="368.8" cy="159.6" rx="1.0" ry="0.85" fill="#9a3a78"/>
<ellipse cx="380.8" cy="161.4" rx="1.0" ry="0.85" fill="#9a3a78"/>
<ellipse cx="410.3" cy="179.2" rx="1.0" ry="0.85" fill="#9a3a78"/>
<ellipse cx="371.2" cy="175.3" rx="1.0" ry="0.85" fill="#9a3a78"/>
<ellipse cx="357.1" cy="188.7" rx="1.0" ry="0.85" fill="#9a3a78"/>
<ellipse cx="358.4" cy="179.0" rx="1.0" ry="0.85" fill="#9a3a78"/>
<ellipse cx="331.1" cy="210.3" rx="1.0" ry="0.85" fill="#9a3a78"/>
<ellipse cx="376.2" cy="179.2" rx="1.0" ry="0.85" fill="#9a3a78"/>
<ellipse cx="394.3" cy="191.5" rx="1.0" ry="0.85" fill="#9a3a78"/>
<ellipse cx="410.3" cy="179.2" rx="1.0" ry="0.85" fill="#9a3a78"/>
<ellipse cx="375.5" cy="197.2" rx="1.0" ry="0.85" fill="#9a3a78"/>
<ellipse cx="389.2" cy="198.8" rx="1.0" ry="0.85" fill="#9a3a78"/>
<ellipse cx="410.9" cy="197.9" rx="1.0" ry="0.85" fill="#9a3a78"/>
<ellipse cx="390.8" cy="204.4" rx="1.0" ry="0.85" fill="#9a3a78"/>
<ellipse cx="371.6" cy="204.7" rx="1.0" ry="0.85" fill="#9a3a78"/>
<ellipse cx="319.4" cy="194.6" rx="1.5" ry="3.0" fill="#a02a68"/>
</g></g>
<g clip-path="url(#cFF1C)">
<rect x="419.5" y="139.8" width="105.10000000000002" height="78.5" fill="#ebd0e0" stroke="none" stroke-width="1" />
<g filter="url(#soft)">
<path d="M418.8 139.1L434.4 139.1L435.9 154.5L427.8 158.1L418.8 156.0Z" fill="#d093ba" stroke="#d093ba" stroke-width="6.80" stroke-linejoin="round"/>
<path d="M418.8 139.1L434.4 139.1L435.9 154.5L427.8 158.1L418.8 156.0Z" fill="#e2f3f3" stroke="#e2f3f3" stroke-width="5.60" stroke-linejoin="round"/>
<path d="M441.0 139.1L451.9 139.1L453.6 152.7L444.9 155.4L442.5 154.3Z" fill="#d093ba" stroke="#d093ba" stroke-width="6.80" stroke-linejoin="round"/>
<path d="M441.0 139.1L451.9 139.1L453.6 152.7L444.9 155.4L442.5 154.3Z" fill="#e2f3f3" stroke="#e2f3f3" stroke-width="5.60" stroke-linejoin="round"/>
<path d="M458.6 139.1L473.0 139.1L465.6 152.1L460.3 153.0Z" fill="#d093ba" stroke="#d093ba" stroke-width="6.80" stroke-linejoin="round"/>
<path d="M458.6 139.1L473.0 139.1L465.6 152.1L460.3 153.0Z" fill="#e2f3f3" stroke="#e2f3f3" stroke-width="5.60" stroke-linejoin="round"/>
<path d="M480.6 139.1L486.4 139.1L487.8 160.0L478.9 162.3L471.7 154.7Z" fill="#d093ba" stroke="#d093ba" stroke-width="6.80" stroke-linejoin="round"/>
<path d="M480.6 139.1L486.4 139.1L487.8 160.0L478.9 162.3L471.7 154.7Z" fill="#e2f3f3" stroke="#e2f3f3" stroke-width="5.60" stroke-linejoin="round"/>
<path d="M493.0 139.1L501.5 139.1L503.7 157.3L494.4 160.4Z" fill="#d093ba" stroke="#d093ba" stroke-width="6.80" stroke-linejoin="round"/>
<path d="M493.0 139.1L501.5 139.1L503.7 157.3L494.4 160.4Z" fill="#e2f3f3" stroke="#e2f3f3" stroke-width="5.60" stroke-linejoin="round"/>
<path d="M508.1 139.1L525.3 139.1L525.3 156.0L510.2 156.0Z" fill="#d093ba" stroke="#d093ba" stroke-width="6.80" stroke-linejoin="round"/>
<path d="M508.1 139.1L525.3 139.1L525.3 156.0L510.2 156.0Z" fill="#e2f3f3" stroke="#e2f3f3" stroke-width="5.60" stroke-linejoin="round"/>
<path d="M434.7 179.1L431.9 163.5L439.4 160.2L441.7 161.2L444.1 174.8L434.8 179.2Z" fill="#d093ba" stroke="#d093ba" stroke-width="6.80" stroke-linejoin="round"/>
<path d="M434.7 179.1L431.9 163.5L439.4 160.2L441.7 161.2L444.1 174.8L434.8 179.2Z" fill="#e2f3f3" stroke="#e2f3f3" stroke-width="5.60" stroke-linejoin="round"/>
<path d="M450.7 174.1L448.4 161.2L456.3 158.8L456.3 172.9L453.4 174.8Z" fill="#d093ba" stroke="#d093ba" stroke-width="6.80" stroke-linejoin="round"/>
<path d="M450.7 174.1L448.4 161.2L456.3 158.8L456.3 172.9L453.4 174.8Z" fill="#e2f3f3" stroke="#e2f3f3" stroke-width="5.60" stroke-linejoin="round"/>
<path d="M462.9 172.0L462.9 159.2L466.4 158.7L473.9 166.6L471.0 173.4Z" fill="#d093ba" stroke="#d093ba" stroke-width="6.80" stroke-linejoin="round"/>
<path d="M462.9 172.0L462.9 159.2L466.4 158.7L473.9 166.6L471.0 173.4Z" fill="#e2f3f3" stroke="#e2f3f3" stroke-width="5.60" stroke-linejoin="round"/>
<path d="M478.1 180.1L476.6 177.1L480.2 168.7L490.7 166.1L490.7 166.1L492.4 175.0L485.8 181.6Z" fill="#d093ba" stroke="#d093ba" stroke-width="6.80" stroke-linejoin="round"/>
<path d="M478.1 180.1L476.6 177.1L480.2 168.7L490.7 166.1L490.7 166.1L492.4 175.0L485.8 181.6Z" fill="#e2f3f3" stroke="#e2f3f3" stroke-width="5.60" stroke-linejoin="round"/>
<path d="M498.9 173.6L497.5 166.3L504.7 163.9L508.3 175.4L506.8 176.5Z" fill="#d093ba" stroke="#d093ba" stroke-width="6.80" stroke-linejoin="round"/>
<path d="M498.9 173.6L497.5 166.3L504.7 163.9L508.3 175.4L506.8 176.5Z" fill="#e2f3f3" stroke="#e2f3f3" stroke-width="5.60" stroke-linejoin="round"/>
<path d="M525.3 162.6L525.3 172.4L514.6 173.1L511.2 162.6Z" fill="#d093ba" stroke="#d093ba" stroke-width="6.80" stroke-linejoin="round"/>
<path d="M525.3 162.6L525.3 172.4L514.6 173.1L511.2 162.6Z" fill="#e2f3f3" stroke="#e2f3f3" stroke-width="5.60" stroke-linejoin="round"/>
<path d="M418.8 180.6L418.8 162.8L425.3 164.3L428.0 179.0Z" fill="#d093ba" stroke="#d093ba" stroke-width="6.80" stroke-linejoin="round"/>
<path d="M418.8 180.6L418.8 162.8L425.3 164.3L428.0 179.0Z" fill="#e2f3f3" stroke="#e2f3f3" stroke-width="5.60" stroke-linejoin="round"/>
<path d="M442.6 195.1L439.0 184.5L448.1 180.2L451.4 181.1L454.6 192.1L451.9 195.4Z" fill="#d093ba" stroke="#d093ba" stroke-width="6.80" stroke-linejoin="round"/>
<path d="M442.6 195.1L439.0 184.5L448.1 180.2L451.4 181.1L454.6 192.1L451.9 195.4Z" fill="#e2f3f3" stroke="#e2f3f3" stroke-width="5.60" stroke-linejoin="round"/>
<path d="M460.8 189.7L457.9 179.8L460.3 178.2L470.8 180.1L472.0 182.7L467.0 189.9Z" fill="#d093ba" stroke="#d093ba" stroke-width="6.80" stroke-linejoin="round"/>
<path d="M460.8 189.7L457.9 179.8L460.3 178.2L470.8 180.1L472.0 182.7L467.0 189.9Z" fill="#e2f3f3" stroke="#e2f3f3" stroke-width="5.60" stroke-linejoin="round"/>
<path d="M472.5 193.6L477.3 186.6L484.6 188.1L488.5 196.6L486.6 201.0L476.2 201.8Z" fill="#d093ba" stroke="#d093ba" stroke-width="6.80" stroke-linejoin="round"/>
<path d="M472.5 193.6L477.3 186.6L484.6 188.1L488.5 196.6L486.6 201.0L476.2 201.8Z" fill="#e2f3f3" stroke="#e2f3f3" stroke-width="5.60" stroke-linejoin="round"/>
<path d="M494.2 193.2L490.8 185.9L496.9 179.9L504.3 182.6L505.3 191.5L504.1 192.8Z" fill="#d093ba" stroke="#d093ba" stroke-width="6.80" stroke-linejoin="round"/>
<path d="M494.2 193.2L490.8 185.9L496.9 179.9L504.3 182.6L505.3 191.5L504.1 192.8Z" fill="#e2f3f3" stroke="#e2f3f3" stroke-width="5.60" stroke-linejoin="round"/>
<path d="M525.3 179.0L525.3 190.6L511.7 189.5L510.9 181.8L513.4 179.8Z" fill="#d093ba" stroke="#d093ba" stroke-width="6.80" stroke-linejoin="round"/>
<path d="M525.3 179.0L525.3 190.6L511.7 189.5L510.9 181.8L513.4 179.8Z" fill="#e9c3d9" stroke="#e9c3d9" stroke-width="5.60" stroke-linejoin="round"/>
<path d="M495.8 211.1L492.4 204.1L494.3 199.8L502.7 199.5L503.4 205.2Z" fill="#d093ba" stroke="#d093ba" stroke-width="6.80" stroke-linejoin="round"/>
<path d="M495.8 211.1L492.4 204.1L494.3 199.8L502.7 199.5L503.4 205.2Z" fill="#e2f3f3" stroke="#e2f3f3" stroke-width="5.60" stroke-linejoin="round"/>
<path d="M525.3 197.2L525.3 213.8L510.0 204.7L509.1 197.1L510.1 196.0Z" fill="#d093ba" stroke="#d093ba" stroke-width="6.80" stroke-linejoin="round"/>
<path d="M525.3 197.2L525.3 213.8L510.0 204.7L509.1 197.1L510.1 196.0Z" fill="#e2f3f3" stroke="#e2f3f3" stroke-width="5.60" stroke-linejoin="round"/>
<path d="M418.8 200.8L418.8 187.3L431.5 185.0L432.3 185.3L436.5 197.8L434.0 201.4Z" fill="#d093ba" stroke="#d093ba" stroke-width="6.80" stroke-linejoin="round"/>
<path d="M418.8 200.8L418.8 187.3L431.5 185.0L432.3 185.3L436.5 197.8L434.0 201.4Z" fill="#e2f3f3" stroke="#e2f3f3" stroke-width="5.60" stroke-linejoin="round"/>
<path d="M455.9 219.0L442.0 219.0L439.3 205.5L441.9 201.7L450.9 202.0Z" fill="#d093ba" stroke="#d093ba" stroke-width="6.80" stroke-linejoin="round"/>
<path d="M455.9 219.0L442.0 219.0L439.3 205.5L441.9 201.7L450.9 202.0Z" fill="#e2f3f3" stroke="#e2f3f3" stroke-width="5.60" stroke-linejoin="round"/>
<path d="M463.9 219.0L462.8 219.0L457.0 199.5L459.8 196.3L466.6 196.5L470.5 205.2Z" fill="#d093ba" stroke="#d093ba" stroke-width="6.80" stroke-linejoin="round"/>
<path d="M463.9 219.0L462.8 219.0L457.0 199.5L459.8 196.3L466.6 196.5L470.5 205.2Z" fill="#e2f3f3" stroke="#e2f3f3" stroke-width="5.60" stroke-linejoin="round"/>
<path d="M435.2 219.0L418.8 219.0L418.8 207.4L433.0 208.0Z" fill="#d093ba" stroke="#d093ba" stroke-width="6.80" stroke-linejoin="round"/>
<path d="M435.2 219.0L418.8 219.0L418.8 207.4L433.0 208.0Z" fill="#e2f3f3" stroke="#e2f3f3" stroke-width="5.60" stroke-linejoin="round"/>
<path d="M491.0 219.0L471.2 219.0L476.3 208.4L486.8 207.6L491.2 216.8Z" fill="#d093ba" stroke="#d093ba" stroke-width="6.80" stroke-linejoin="round"/>
<path d="M491.0 219.0L471.2 219.0L476.3 208.4L486.8 207.6L491.2 216.8Z" fill="#e2f3f3" stroke="#e2f3f3" stroke-width="5.60" stroke-linejoin="round"/>
<path d="M521.1 219.0L497.6 219.0L497.7 217.9L507.1 210.7Z" fill="#d093ba" stroke="#d093ba" stroke-width="6.80" stroke-linejoin="round"/>
<path d="M521.1 219.0L497.6 219.0L497.7 217.9L507.1 210.7Z" fill="#e2f3f3" stroke="#e2f3f3" stroke-width="5.60" stroke-linejoin="round"/>
<circle cx="439.4" cy="156.5" r="2.34" fill="#e5b8d3" opacity="0.75"/>
<circle cx="488.8" cy="204.1" r="1.26" fill="#e5b8d3" opacity="0.75"/>
<circle cx="468.7" cy="193.3" r="1.40" fill="#e5b8d3" opacity="0.75"/>
<circle cx="473.0" cy="177.1" r="1.68" fill="#e5b8d3" opacity="0.75"/>
<circle cx="459.6" cy="174.7" r="2.57" fill="#e5b8d3" opacity="0.75"/>
<circle cx="486.8" cy="185.2" r="2.52" fill="#e5b8d3" opacity="0.75"/>
<circle cx="458.3" cy="192.9" r="2.44" fill="#e5b8d3" opacity="0.75"/>
<circle cx="453.4" cy="198.8" r="1.52" fill="#e5b8d3" opacity="0.75"/>
<circle cx="440.2" cy="198.3" r="2.52" fill="#e5b8d3" opacity="0.75"/>
<circle cx="506.9" cy="206.7" r="2.47" fill="#e5b8d3" opacity="0.75"/>
<circle cx="459.6" cy="156.4" r="2.55" fill="#e5b8d3" opacity="0.75"/>
<circle cx="431.8" cy="181.6" r="2.02" fill="#e5b8d3" opacity="0.75"/>
<circle cx="435.7" cy="204.8" r="2.32" fill="#e5b8d3" opacity="0.75"/>
<circle cx="475.8" cy="183.0" r="2.14" fill="#e5b8d3" opacity="0.75"/>
<circle cx="505.6" cy="196.0" r="1.55" fill="#e5b8d3" opacity="0.75"/>
<circle cx="494.6" cy="216.2" r="1.44" fill="#e5b8d3" opacity="0.75"/>
<circle cx="444.7" cy="158.9" r="1.48" fill="#e5b8d3" opacity="0.75"/>
<circle cx="512.2" cy="176.6" r="1.68" fill="#e5b8d3" opacity="0.75"/>
<circle cx="428.2" cy="161.6" r="1.78" fill="#e5b8d3" opacity="0.75"/>
<circle cx="508.7" cy="192.5" r="2.07" fill="#e5b8d3" opacity="0.75"/>
<circle cx="507.3" cy="159.3" r="1.24" fill="#e5b8d3" opacity="0.75"/>
<circle cx="507.4" cy="180.3" r="2.57" fill="#e5b8d3" opacity="0.75"/>
<circle cx="493.7" cy="164.1" r="1.68" fill="#e5b8d3" opacity="0.75"/>
<circle cx="435.0" cy="182.7" r="2.42" fill="#e5b8d3" opacity="0.75"/>
<line x1="437.4" y1="135.8" x2="454.8" y2="135.8" stroke="#e5b8d3" stroke-width="1.96" opacity="0.55" stroke-linecap="round"/>
<line x1="444.7" y1="158.9" x2="457.2" y2="155.1" stroke="#e5b8d3" stroke-width="2.57" opacity="0.55" stroke-linecap="round"/>
<line x1="439.4" y1="156.5" x2="444.7" y2="158.9" stroke="#e5b8d3" stroke-width="2.25" opacity="0.55" stroke-linecap="round"/>
<line x1="459.6" y1="156.4" x2="467.6" y2="155.2" stroke="#e5b8d3" stroke-width="2.17" opacity="0.55" stroke-linecap="round"/>
<line x1="457.2" y1="155.1" x2="459.6" y2="156.4" stroke="#e5b8d3" stroke-width="1.88" opacity="0.55" stroke-linecap="round"/>
<line x1="478.7" y1="135.8" x2="489.5" y2="135.8" stroke="#e5b8d3" stroke-width="2.03" opacity="0.55" stroke-linecap="round"/>
<line x1="477.8" y1="165.9" x2="491.3" y2="162.5" stroke="#e5b8d3" stroke-width="2.49" opacity="0.55" stroke-linecap="round"/>
<line x1="489.5" y1="135.8" x2="504.4" y2="135.8" stroke="#e5b8d3" stroke-width="2.25" opacity="0.55" stroke-linecap="round"/>
<line x1="491.3" y1="162.5" x2="493.7" y2="164.1" stroke="#e5b8d3" stroke-width="2.91" opacity="0.55" stroke-linecap="round"/>
<line x1="459.6" y1="156.4" x2="459.6" y2="174.7" stroke="#e5b8d3" stroke-width="2.38" opacity="0.55" stroke-linecap="round"/>
<line x1="447.8" y1="176.8" x2="454.0" y2="178.3" stroke="#e5b8d3" stroke-width="2.54" opacity="0.55" stroke-linecap="round"/>
<line x1="459.6" y1="174.7" x2="473.0" y2="177.1" stroke="#e5b8d3" stroke-width="1.83" opacity="0.55" stroke-linecap="round"/>
<line x1="506.9" y1="159.8" x2="512.2" y2="176.6" stroke="#e5b8d3" stroke-width="1.89" opacity="0.55" stroke-linecap="round"/>
<line x1="415.5" y1="184.6" x2="431.8" y2="181.6" stroke="#e5b8d3" stroke-width="2.00" opacity="0.55" stroke-linecap="round"/>
<line x1="458.3" y1="192.9" x2="468.7" y2="193.3" stroke="#e5b8d3" stroke-width="2.52" opacity="0.55" stroke-linecap="round"/>
<line x1="468.7" y1="193.3" x2="474.1" y2="205.3" stroke="#e5b8d3" stroke-width="2.99" opacity="0.55" stroke-linecap="round"/>
<line x1="507.4" y1="180.3" x2="508.7" y2="192.5" stroke="#e5b8d3" stroke-width="2.69" opacity="0.55" stroke-linecap="round"/>
<line x1="528.6" y1="175.5" x2="528.6" y2="194.1" stroke="#e5b8d3" stroke-width="2.73" opacity="0.55" stroke-linecap="round"/>
<line x1="506.9" y1="206.7" x2="528.6" y2="219.6" stroke="#e5b8d3" stroke-width="1.88" opacity="0.55" stroke-linecap="round"/>
<line x1="435.7" y1="204.8" x2="440.2" y2="198.3" stroke="#e5b8d3" stroke-width="2.93" opacity="0.55" stroke-linecap="round"/>
<line x1="435.7" y1="204.8" x2="439.3" y2="222.3" stroke="#e5b8d3" stroke-width="2.40" opacity="0.55" stroke-linecap="round"/>
<line x1="453.4" y1="198.8" x2="460.3" y2="222.3" stroke="#e5b8d3" stroke-width="1.96" opacity="0.55" stroke-linecap="round"/>
<path d="M487.0 166.4L494.6 171.5L504.6 175.3L514.7 177.8L523.5 181.6" fill="none" stroke="#c8609a" stroke-width="1.52" opacity="0.55" stroke-linejoin="round" stroke-linecap="round"/>
<line x1="507.4" y1="180.3" x2="512.2" y2="176.6" stroke="#c8609a" stroke-width="1.9" stroke-linecap="round"/>
<line x1="496.0" y1="176.1" x2="507.4" y2="180.3" stroke="#c8609a" stroke-width="1.9" stroke-linecap="round"/>
<path d="M437.9 155.1L446.7 152.6L456.8 151.3" fill="none" stroke="#d283b0" stroke-width="1.20" opacity="0.55" stroke-linejoin="round" stroke-linecap="round"/>
<path d="M492.0 145.0L494.6 164.0" fill="none" stroke="#dc9cc0" stroke-width="0.88" opacity="0.55" stroke-linejoin="round" stroke-linecap="round"/>
<line x1="491.3" y1="162.5" x2="493.7" y2="164.1" stroke="#dc9cc0" stroke-width="1.1" stroke-linecap="round"/>
<ellipse cx="439.4" cy="156.5" rx="1.0" ry="0.85" fill="#9a3a78"/>
<ellipse cx="457.2" cy="155.1" rx="1.0" ry="0.85" fill="#9a3a78"/>
<ellipse cx="439.4" cy="156.5" rx="1.0" ry="0.85" fill="#9a3a78"/>
<ellipse cx="428.2" cy="161.6" rx="1.0" ry="0.85" fill="#9a3a78"/>
<ellipse cx="491.3" cy="162.5" rx="1.0" ry="0.85" fill="#9a3a78"/>
<ellipse cx="506.9" cy="159.8" rx="1.0" ry="0.85" fill="#9a3a78"/>
<ellipse cx="431.8" cy="181.6" rx="1.0" ry="0.85" fill="#9a3a78"/>
<ellipse cx="435.0" cy="182.7" rx="1.0" ry="0.85" fill="#9a3a78"/>
<ellipse cx="435.0" cy="182.7" rx="1.0" ry="0.85" fill="#9a3a78"/>
<ellipse cx="440.2" cy="198.3" rx="1.0" ry="0.85" fill="#9a3a78"/>
<ellipse cx="440.2" cy="198.3" rx="1.0" ry="0.85" fill="#9a3a78"/>
<ellipse cx="440.2" cy="198.3" rx="1.0" ry="0.85" fill="#9a3a78"/>
<ellipse cx="435.7" cy="204.8" rx="1.0" ry="0.85" fill="#9a3a78"/>
<ellipse cx="435.7" cy="204.8" rx="1.0" ry="0.85" fill="#9a3a78"/>
<ellipse cx="458.3" cy="192.9" rx="1.0" ry="0.85" fill="#9a3a78"/>
<ellipse cx="475.8" cy="183.0" rx="1.0" ry="0.85" fill="#9a3a78"/>
<ellipse cx="475.8" cy="183.0" rx="1.0" ry="0.85" fill="#9a3a78"/>
<ellipse cx="486.8" cy="185.2" rx="1.0" ry="0.85" fill="#9a3a78"/>
<ellipse cx="494.6" cy="216.2" rx="1.0" ry="0.85" fill="#9a3a78"/>
<ellipse cx="508.7" cy="192.5" rx="1.0" ry="0.85" fill="#9a3a78"/>
<ellipse cx="508.7" cy="192.5" rx="1.0" ry="0.85" fill="#9a3a78"/>
<ellipse cx="512.2" cy="176.6" rx="1.0" ry="0.85" fill="#9a3a78"/>
</g></g>
<g clip-path="url(#cMF1MO)">
<rect x="314.6" y="218.3" width="104.89999999999998" height="78.89999999999998" fill="#ebd0e0" stroke="none" stroke-width="1" />
<g filter="url(#soft)">
<path d="M313.9 217.6L328.7 217.6L328.7 226.2L313.9 228.9Z" fill="#d093ba" stroke="#d093ba" stroke-width="6.80" stroke-linejoin="round"/>
<path d="M313.9 217.6L328.7 217.6L328.7 226.2L313.9 228.9Z" fill="#e2f3f3" stroke="#e2f3f3" stroke-width="5.60" stroke-linejoin="round"/>
<path d="M335.3 217.6L346.0 217.6L343.2 232.9L335.3 227.2Z" fill="#d093ba" stroke="#d093ba" stroke-width="6.80" stroke-linejoin="round"/>
<path d="M335.3 217.6L346.0 217.6L343.2 232.9L335.3 227.2Z" fill="#e2f3f3" stroke="#e2f3f3" stroke-width="5.60" stroke-linejoin="round"/>
<path d="M352.7 217.6L364.0 217.6L365.0 222.3L357.5 235.6L349.8 233.8Z" fill="#d093ba" stroke="#d093ba" stroke-width="6.80" stroke-linejoin="round"/>
<path d="M352.7 217.6L364.0 217.6L365.0 222.3L357.5 235.6L349.8 233.8Z" fill="#e2f3f3" stroke="#e2f3f3" stroke-width="5.60" stroke-linejoin="round"/>
<path d="M363.1 239.2L370.0 226.9L384.0 232.0L384.4 237.3L374.6 244.3L365.7 242.7Z" fill="#d093ba" stroke="#d093ba" stroke-width="6.80" stroke-linejoin="round"/>
<path d="M363.1 239.2L370.0 226.9L384.0 232.0L384.4 237.3L374.6 244.3L365.7 242.7Z" fill="#e2f3f3" stroke="#e2f3f3" stroke-width="5.60" stroke-linejoin="round"/>
<path d="M370.8 217.6L390.3 217.6L385.7 225.6L371.4 220.4Z" fill="#d093ba" stroke="#d093ba" stroke-width="6.80" stroke-linejoin="round"/>
<path d="M370.8 217.6L390.3 217.6L385.7 225.6L371.4 220.4Z" fill="#e2f3f3" stroke="#e2f3f3" stroke-width="5.60" stroke-linejoin="round"/>
<path d="M397.9 217.6L408.4 217.6L406.6 239.8L398.3 242.4L391.0 237.2L390.6 230.4Z" fill="#d093ba" stroke="#d093ba" stroke-width="6.80" stroke-linejoin="round"/>
<path d="M397.9 217.6L408.4 217.6L406.6 239.8L398.3 242.4L391.0 237.2L390.6 230.4Z" fill="#e2f3f3" stroke="#e2f3f3" stroke-width="5.60" stroke-linejoin="round"/>
<path d="M415.0 217.6L420.2 217.6L420.2 244.0L413.2 240.4Z" fill="#d093ba" stroke="#d093ba" stroke-width="6.80" stroke-linejoin="round"/>
<path d="M415.0 217.6L420.2 217.6L420.2 244.0L413.2 240.4Z" fill="#e2f3f3" stroke="#e2f3f3" stroke-width="5.60" stroke-linejoin="round"/>
<path d="M313.9 246.7L313.9 235.6L331.2 232.4L339.4 238.2L335.0 247.2Z" fill="#d093ba" stroke="#d093ba" stroke-width="6.80" stroke-linejoin="round"/>
<path d="M313.9 246.7L313.9 235.6L331.2 232.4L339.4 238.2L335.0 247.2Z" fill="#e2f3f3" stroke="#e2f3f3" stroke-width="5.60" stroke-linejoin="round"/>
<path d="M340.6 250.8L346.0 239.8L346.2 239.7L357.2 242.3L360.2 246.4L356.6 260.1L342.9 258.7Z" fill="#d093ba" stroke="#d093ba" stroke-width="6.80" stroke-linejoin="round"/>
<path d="M340.6 250.8L346.0 239.8L346.2 239.7L357.2 242.3L360.2 246.4L356.6 260.1L342.9 258.7Z" fill="#e2f3f3" stroke="#e2f3f3" stroke-width="5.60" stroke-linejoin="round"/>
<path d="M363.4 260.2L366.2 249.5L372.7 250.6L375.2 260.9L372.8 262.5Z" fill="#d093ba" stroke="#d093ba" stroke-width="6.80" stroke-linejoin="round"/>
<path d="M363.4 260.2L366.2 249.5L372.7 250.6L375.2 260.9L372.8 262.5Z" fill="#e2f3f3" stroke="#e2f3f3" stroke-width="5.60" stroke-linejoin="round"/>
<path d="M381.7 259.6L379.1 249.2L387.8 243.0L394.3 247.6L393.4 262.0Z" fill="#d093ba" stroke="#d093ba" stroke-width="6.80" stroke-linejoin="round"/>
<path d="M381.7 259.6L379.1 249.2L387.8 243.0L394.3 247.6L393.4 262.0Z" fill="#e2f3f3" stroke="#e2f3f3" stroke-width="5.60" stroke-linejoin="round"/>
<path d="M420.2 251.5L420.2 262.3L400.0 261.1L400.8 248.5L409.4 245.9Z" fill="#d093ba" stroke="#d093ba" stroke-width="6.80" stroke-linejoin="round"/>
<path d="M420.2 251.5L420.2 262.3L400.0 261.1L400.8 248.5L409.4 245.9Z" fill="#e2f3f3" stroke="#e2f3f3" stroke-width="5.60" stroke-linejoin="round"/>
<path d="M313.9 258.6L313.9 253.3L334.6 253.7L336.2 259.5L326.1 264.3Z" fill="#d093ba" stroke="#d093ba" stroke-width="6.80" stroke-linejoin="round"/>
<path d="M313.9 258.6L313.9 253.3L334.6 253.7L336.2 259.5L326.1 264.3Z" fill="#e2f3f3" stroke="#e2f3f3" stroke-width="5.60" stroke-linejoin="round"/>
<path d="M329.9 276.1L329.5 270.0L337.5 266.2L337.8 275.1L333.5 278.4Z" fill="#d093ba" stroke="#d093ba" stroke-width="6.80" stroke-linejoin="round"/>
<path d="M329.9 276.1L329.5 270.0L337.5 266.2L337.8 275.1L333.5 278.4Z" fill="#e2f3f3" stroke="#e2f3f3" stroke-width="5.60" stroke-linejoin="round"/>
<path d="M344.4 274.2L344.1 265.4L354.5 266.5L353.5 277.0Z" fill="#d093ba" stroke="#d093ba" stroke-width="6.80" stroke-linejoin="round"/>
<path d="M344.4 274.2L344.1 265.4L354.5 266.5L353.5 277.0Z" fill="#e2f3f3" stroke="#e2f3f3" stroke-width="5.60" stroke-linejoin="round"/>
<path d="M360.2 276.7L361.1 266.4L369.7 268.6L368.5 277.0Z" fill="#d093ba" stroke="#d093ba" stroke-width="6.80" stroke-linejoin="round"/>
<path d="M360.2 276.7L361.1 266.4L369.7 268.6L368.5 277.0Z" fill="#e2f3f3" stroke="#e2f3f3" stroke-width="5.60" stroke-linejoin="round"/>
<path d="M313.9 277.3L313.9 265.9L322.9 270.1L323.2 275.3Z" fill="#d093ba" stroke="#d093ba" stroke-width="6.80" stroke-linejoin="round"/>
<path d="M313.9 277.3L313.9 265.9L322.9 270.1L323.2 275.3Z" fill="#e2f3f3" stroke="#e2f3f3" stroke-width="5.60" stroke-linejoin="round"/>
<path d="M330.4 297.9L313.9 297.9L313.9 284.0L326.1 281.5L330.4 284.2Z" fill="#d093ba" stroke="#d093ba" stroke-width="6.80" stroke-linejoin="round"/>
<path d="M330.4 297.9L313.9 297.9L313.9 284.0L326.1 281.5L330.4 284.2Z" fill="#e2f3f3" stroke="#e2f3f3" stroke-width="5.60" stroke-linejoin="round"/>
<path d="M351.4 297.9L337.0 297.9L337.0 284.0L341.8 280.4L352.1 283.4Z" fill="#d093ba" stroke="#d093ba" stroke-width="6.80" stroke-linejoin="round"/>
<path d="M351.4 297.9L337.0 297.9L337.0 284.0L341.8 280.4L352.1 283.4Z" fill="#e2f3f3" stroke="#e2f3f3" stroke-width="5.60" stroke-linejoin="round"/>
<path d="M374.1 297.9L358.1 297.9L358.7 283.3L369.7 283.6L375.3 290.9Z" fill="#d093ba" stroke="#d093ba" stroke-width="6.80" stroke-linejoin="round"/>
<path d="M374.1 297.9L358.1 297.9L358.7 283.3L369.7 283.6L375.3 290.9Z" fill="#e2f3f3" stroke="#e2f3f3" stroke-width="5.60" stroke-linejoin="round"/>
<path d="M379.7 285.8L374.8 279.4L376.4 268.0L379.7 265.9L391.4 268.3L391.1 279.8Z" fill="#d093ba" stroke="#d093ba" stroke-width="6.80" stroke-linejoin="round"/>
<path d="M379.7 285.8L374.8 279.4L376.4 268.0L379.7 265.9L391.4 268.3L391.1 279.8Z" fill="#e2f3f3" stroke="#e2f3f3" stroke-width="5.60" stroke-linejoin="round"/>
<path d="M420.2 268.9L420.2 277.6L401.0 283.3L397.7 280.3L398.0 267.6Z" fill="#d093ba" stroke="#d093ba" stroke-width="6.80" stroke-linejoin="round"/>
<path d="M420.2 268.9L420.2 277.6L401.0 283.3L397.7 280.3L398.0 267.6Z" fill="#e2f3f3" stroke="#e2f3f3" stroke-width="5.60" stroke-linejoin="round"/>
<path d="M397.5 297.9L380.8 297.9L381.8 292.2L393.9 285.8L397.0 288.5Z" fill="#d093ba" stroke="#d093ba" stroke-width="6.80" stroke-linejoin="round"/>
<path d="M397.5 297.9L380.8 297.9L381.8 292.2L393.9 285.8L397.0 288.5Z" fill="#e2f3f3" stroke="#e2f3f3" stroke-width="5.60" stroke-linejoin="round"/>
<path d="M420.2 284.5L420.2 297.9L404.1 297.9L403.7 289.4Z" fill="#d093ba" stroke="#d093ba" stroke-width="6.80" stroke-linejoin="round"/>
<path d="M420.2 284.5L420.2 297.9L404.1 297.9L403.7 289.4Z" fill="#e2f3f3" stroke="#e2f3f3" stroke-width="5.60" stroke-linejoin="round"/>
<circle cx="373.4" cy="266.1" r="1.80" fill="#e5b8d3" opacity="0.75"/>
<circle cx="394.4" cy="281.8" r="1.69" fill="#e5b8d3" opacity="0.75"/>
<circle cx="368.5" cy="222.9" r="1.23" fill="#e5b8d3" opacity="0.75"/>
<circle cx="355.5" cy="281.0" r="2.32" fill="#e5b8d3" opacity="0.75"/>
<circle cx="340.2" cy="261.3" r="2.17" fill="#e5b8d3" opacity="0.75"/>
<circle cx="387.2" cy="229.7" r="2.17" fill="#e5b8d3" opacity="0.75"/>
<circle cx="378.8" cy="290.0" r="1.43" fill="#e5b8d3" opacity="0.75"/>
<circle cx="326.7" cy="277.9" r="1.59" fill="#e5b8d3" opacity="0.75"/>
<circle cx="409.8" cy="242.3" r="1.99" fill="#e5b8d3" opacity="0.75"/>
<circle cx="363.8" cy="245.7" r="1.39" fill="#e5b8d3" opacity="0.75"/>
<circle cx="359.4" cy="262.6" r="2.28" fill="#e5b8d3" opacity="0.75"/>
<circle cx="333.7" cy="282.4" r="2.15" fill="#e5b8d3" opacity="0.75"/>
<circle cx="379.0" cy="262.4" r="1.31" fill="#e5b8d3" opacity="0.75"/>
<circle cx="337.0" cy="250.5" r="2.14" fill="#e5b8d3" opacity="0.75"/>
<circle cx="356.6" cy="280.0" r="2.56" fill="#e5b8d3" opacity="0.75"/>
<circle cx="340.7" cy="261.8" r="1.72" fill="#e5b8d3" opacity="0.75"/>
<circle cx="332.0" cy="228.9" r="2.18" fill="#e5b8d3" opacity="0.75"/>
<circle cx="359.1" cy="239.4" r="2.11" fill="#e5b8d3" opacity="0.75"/>
<circle cx="326.1" cy="267.9" r="2.52" fill="#e5b8d3" opacity="0.75"/>
<circle cx="394.7" cy="265.7" r="1.30" fill="#e5b8d3" opacity="0.75"/>
<line x1="343.6" y1="237.2" x2="346.0" y2="236.3" stroke="#e5b8d3" stroke-width="2.54" opacity="0.55" stroke-linecap="round"/>
<line x1="332.0" y1="228.9" x2="343.6" y2="237.2" stroke="#e5b8d3" stroke-width="1.88" opacity="0.55" stroke-linecap="round"/>
<line x1="349.9" y1="214.3" x2="366.7" y2="214.3" stroke="#e5b8d3" stroke-width="2.24" opacity="0.55" stroke-linecap="round"/>
<line x1="387.2" y1="229.7" x2="387.8" y2="239.0" stroke="#e5b8d3" stroke-width="1.83" opacity="0.55" stroke-linecap="round"/>
<line x1="366.7" y1="214.3" x2="396.0" y2="214.3" stroke="#e5b8d3" stroke-width="1.80" opacity="0.55" stroke-linecap="round"/>
<line x1="409.8" y1="242.3" x2="412.0" y2="214.3" stroke="#e5b8d3" stroke-width="2.89" opacity="0.55" stroke-linecap="round"/>
<line x1="397.7" y1="246.0" x2="409.8" y2="242.3" stroke="#e5b8d3" stroke-width="1.71" opacity="0.55" stroke-linecap="round"/>
<line x1="423.5" y1="214.3" x2="423.5" y2="249.5" stroke="#e5b8d3" stroke-width="2.55" opacity="0.55" stroke-linecap="round"/>
<line x1="409.8" y1="242.3" x2="423.5" y2="249.5" stroke="#e5b8d3" stroke-width="2.99" opacity="0.55" stroke-linecap="round"/>
<line x1="310.6" y1="232.9" x2="310.6" y2="249.9" stroke="#e5b8d3" stroke-width="2.60" opacity="0.55" stroke-linecap="round"/>
<line x1="359.4" y1="262.6" x2="363.8" y2="245.7" stroke="#e5b8d3" stroke-width="2.73" opacity="0.55" stroke-linecap="round"/>
<line x1="358.0" y1="263.6" x2="359.4" y2="262.6" stroke="#e5b8d3" stroke-width="2.35" opacity="0.55" stroke-linecap="round"/>
<line x1="337.0" y1="250.5" x2="340.2" y2="261.3" stroke="#e5b8d3" stroke-width="2.98" opacity="0.55" stroke-linecap="round"/>
<line x1="396.5" y1="264.2" x2="397.7" y2="246.0" stroke="#e5b8d3" stroke-width="2.08" opacity="0.55" stroke-linecap="round"/>
<line x1="379.0" y1="262.4" x2="394.7" y2="265.7" stroke="#e5b8d3" stroke-width="2.06" opacity="0.55" stroke-linecap="round"/>
<line x1="310.6" y1="249.9" x2="310.6" y2="260.7" stroke="#e5b8d3" stroke-width="2.47" opacity="0.55" stroke-linecap="round"/>
<line x1="326.7" y1="277.9" x2="333.7" y2="282.4" stroke="#e5b8d3" stroke-width="2.44" opacity="0.55" stroke-linecap="round"/>
<line x1="355.5" y1="281.0" x2="356.6" y2="280.0" stroke="#e5b8d3" stroke-width="2.10" opacity="0.55" stroke-linecap="round"/>
<line x1="356.6" y1="280.0" x2="371.3" y2="280.3" stroke="#e5b8d3" stroke-width="2.48" opacity="0.55" stroke-linecap="round"/>
<line x1="310.6" y1="281.3" x2="310.6" y2="301.2" stroke="#e5b8d3" stroke-width="2.78" opacity="0.55" stroke-linecap="round"/>
<line x1="376.9" y1="301.2" x2="378.8" y2="290.0" stroke="#e5b8d3" stroke-width="3.00" opacity="0.55" stroke-linecap="round"/>
<line x1="394.4" y1="281.8" x2="400.2" y2="286.9" stroke="#e5b8d3" stroke-width="1.68" opacity="0.55" stroke-linecap="round"/>
<line x1="401.0" y1="301.2" x2="423.5" y2="301.2" stroke="#e5b8d3" stroke-width="2.49" opacity="0.55" stroke-linecap="round"/>
<ellipse cx="346.0" cy="236.3" rx="1.0" ry="0.85" fill="#9a3a78"/>
<ellipse cx="359.1" cy="239.4" rx="1.0" ry="0.85" fill="#9a3a78"/>
<ellipse cx="337.0" cy="250.5" rx="1.0" ry="0.85" fill="#9a3a78"/>
<ellipse cx="343.6" cy="237.2" rx="1.0" ry="0.85" fill="#9a3a78"/>
<ellipse cx="363.8" cy="245.7" rx="1.0" ry="0.85" fill="#9a3a78"/>
<ellipse cx="368.5" cy="222.9" rx="1.0" ry="0.85" fill="#9a3a78"/>
<ellipse cx="387.8" cy="239.0" rx="1.0" ry="0.85" fill="#9a3a78"/>
<ellipse cx="375.4" cy="247.8" rx="1.0" ry="0.85" fill="#9a3a78"/>
<ellipse cx="397.7" cy="246.0" rx="1.0" ry="0.85" fill="#9a3a78"/>
<ellipse cx="409.8" cy="242.3" rx="1.0" ry="0.85" fill="#9a3a78"/>
<ellipse cx="409.8" cy="242.3" rx="1.0" ry="0.85" fill="#9a3a78"/>
<ellipse cx="340.7" cy="261.8" rx="1.0" ry="0.85" fill="#9a3a78"/>
<ellipse cx="358.0" cy="263.6" rx="1.0" ry="0.85" fill="#9a3a78"/>
<ellipse cx="326.7" cy="277.9" rx="1.0" ry="0.85" fill="#9a3a78"/>
<ellipse cx="355.5" cy="281.0" rx="1.0" ry="0.85" fill="#9a3a78"/>
<ellipse cx="333.7" cy="282.4" rx="1.0" ry="0.85" fill="#9a3a78"/>
<ellipse cx="326.7" cy="277.9" rx="1.0" ry="0.85" fill="#9a3a78"/>
<ellipse cx="379.0" cy="262.4" rx="1.0" ry="0.85" fill="#9a3a78"/>
<ellipse cx="396.5" cy="264.2" rx="1.0" ry="0.85" fill="#9a3a78"/>
<ellipse cx="371.3" cy="280.3" rx="1.0" ry="0.85" fill="#9a3a78"/>
<ellipse cx="378.8" cy="290.0" rx="1.0" ry="0.85" fill="#9a3a78"/>
<ellipse cx="394.4" cy="281.8" rx="1.0" ry="0.85" fill="#9a3a78"/>
<ellipse cx="396.5" cy="264.2" rx="1.0" ry="0.85" fill="#9a3a78"/>
<ellipse cx="356" cy="239" rx="1.8" ry="1.6" fill="#a02a68"/>
<ellipse cx="341.8" cy="262.6" rx="1.4" ry="1.6" fill="#a02a68"/>
</g></g>
<g clip-path="url(#cFF1MO)">
<rect x="419.5" y="218.3" width="105.10000000000002" height="78.89999999999998" fill="#ebd0e0" stroke="none" stroke-width="1" />
<g filter="url(#soft)">
<path d="M418.8 217.6L432.1 217.6L431.0 235.1L418.8 238.9Z" fill="#d093ba" stroke="#d093ba" stroke-width="6.80" stroke-linejoin="round"/>
<path d="M418.8 217.6L432.1 217.6L431.0 235.1L418.8 238.9Z" fill="#e2f3f3" stroke="#e2f3f3" stroke-width="5.60" stroke-linejoin="round"/>
<path d="M438.7 217.6L452.6 217.6L454.5 231.2L444.6 240.3L437.6 235.8Z" fill="#d093ba" stroke="#d093ba" stroke-width="6.80" stroke-linejoin="round"/>
<path d="M438.7 217.6L452.6 217.6L454.5 231.2L444.6 240.3L437.6 235.8Z" fill="#e2f3f3" stroke="#e2f3f3" stroke-width="5.60" stroke-linejoin="round"/>
<path d="M459.3 217.6L474.7 217.6L475.6 231.4L469.7 236.5L461.1 230.6Z" fill="#d093ba" stroke="#d093ba" stroke-width="6.80" stroke-linejoin="round"/>
<path d="M459.3 217.6L474.7 217.6L475.6 231.4L469.7 236.5L461.1 230.6Z" fill="#e2f3f3" stroke="#e2f3f3" stroke-width="5.60" stroke-linejoin="round"/>
<path d="M481.3 217.6L496.0 217.6L493.5 232.4L482.1 230.1Z" fill="#d093ba" stroke="#d093ba" stroke-width="6.80" stroke-linejoin="round"/>
<path d="M481.3 217.6L496.0 217.6L493.5 232.4L482.1 230.1Z" fill="#e2f3f3" stroke="#e2f3f3" stroke-width="5.60" stroke-linejoin="round"/>
<path d="M502.8 217.6L525.3 217.6L525.3 236.4L500.8 237.8L499.6 235.7Z" fill="#d093ba" stroke="#d093ba" stroke-width="6.80" stroke-linejoin="round"/>
<path d="M502.8 217.6L525.3 217.6L525.3 236.4L500.8 237.8L499.6 235.7Z" fill="#e2f3f3" stroke="#e2f3f3" stroke-width="5.60" stroke-linejoin="round"/>
<path d="M418.8 257.2L418.8 245.9L433.7 241.2L442.1 246.5L443.4 251.5L439.1 257.9Z" fill="#d093ba" stroke="#d093ba" stroke-width="6.80" stroke-linejoin="round"/>
<path d="M418.8 257.2L418.8 245.9L433.7 241.2L442.1 246.5L443.4 251.5L439.1 257.9Z" fill="#e2f3f3" stroke="#e2f3f3" stroke-width="5.60" stroke-linejoin="round"/>
<path d="M449.6 249.2L448.7 245.5L458.3 236.7L466.6 242.4L466.4 251.0L465.3 251.8Z" fill="#d093ba" stroke="#d093ba" stroke-width="6.80" stroke-linejoin="round"/>
<path d="M449.6 249.2L448.7 245.5L458.3 236.7L466.6 242.4L466.4 251.0L465.3 251.8Z" fill="#e2f3f3" stroke="#e2f3f3" stroke-width="5.60" stroke-linejoin="round"/>
<path d="M473.0 250.5L473.2 242.2L479.9 236.4L494.0 239.3L495.4 241.7L493.2 251.2L485.9 255.4Z" fill="#d093ba" stroke="#d093ba" stroke-width="6.80" stroke-linejoin="round"/>
<path d="M473.0 250.5L473.2 242.2L479.9 236.4L494.0 239.3L495.4 241.7L493.2 251.2L485.9 255.4Z" fill="#e2f3f3" stroke="#e2f3f3" stroke-width="5.60" stroke-linejoin="round"/>
<path d="M525.3 243.0L525.3 255.5L509.1 259.7L499.8 252.1L501.6 244.3Z" fill="#d093ba" stroke="#d093ba" stroke-width="6.80" stroke-linejoin="round"/>
<path d="M525.3 243.0L525.3 255.5L509.1 259.7L499.8 252.1L501.6 244.3Z" fill="#e2f3f3" stroke="#e2f3f3" stroke-width="5.60" stroke-linejoin="round"/>
<path d="M447.2 269.5L444.5 261.7L448.5 255.7L462.2 258.0L459.3 272.0Z" fill="#d093ba" stroke="#d093ba" stroke-width="6.80" stroke-linejoin="round"/>
<path d="M447.2 269.5L444.5 261.7L448.5 255.7L462.2 258.0L459.3 272.0Z" fill="#e2f3f3" stroke="#e2f3f3" stroke-width="5.60" stroke-linejoin="round"/>
<path d="M465.6 274.5L469.1 257.2L470.1 256.5L483.0 261.3L483.3 275.9L482.9 276.4Z" fill="#d093ba" stroke="#d093ba" stroke-width="6.80" stroke-linejoin="round"/>
<path d="M465.6 274.5L469.1 257.2L470.1 256.5L483.0 261.3L483.3 275.9L482.9 276.4Z" fill="#e2f3f3" stroke="#e2f3f3" stroke-width="5.60" stroke-linejoin="round"/>
<path d="M489.9 274.1L489.6 260.9L495.8 257.4L504.7 264.7L503.0 274.9Z" fill="#d093ba" stroke="#d093ba" stroke-width="6.80" stroke-linejoin="round"/>
<path d="M489.9 274.1L489.6 260.9L495.8 257.4L504.7 264.7L503.0 274.9Z" fill="#e2f3f3" stroke="#e2f3f3" stroke-width="5.60" stroke-linejoin="round"/>
<path d="M525.3 262.3L525.3 276.2L509.6 275.7L511.2 266.0Z" fill="#d093ba" stroke="#d093ba" stroke-width="6.80" stroke-linejoin="round"/>
<path d="M525.3 262.3L525.3 276.2L509.6 275.7L511.2 266.0Z" fill="#e2f3f3" stroke="#e2f3f3" stroke-width="5.60" stroke-linejoin="round"/>
<path d="M418.8 275.6L418.8 263.8L438.5 264.5L441.0 271.8L436.0 278.6Z" fill="#d093ba" stroke="#d093ba" stroke-width="6.80" stroke-linejoin="round"/>
<path d="M418.8 275.6L418.8 263.8L438.5 264.5L441.0 271.8L436.0 278.6Z" fill="#e2f3f3" stroke="#e2f3f3" stroke-width="5.60" stroke-linejoin="round"/>
<path d="M456.3 297.9L444.8 297.9L441.1 282.9L446.1 276.0L459.4 278.8Z" fill="#d093ba" stroke="#d093ba" stroke-width="6.80" stroke-linejoin="round"/>
<path d="M456.3 297.9L444.8 297.9L441.1 282.9L446.1 276.0L459.4 278.8Z" fill="#e2f3f3" stroke="#e2f3f3" stroke-width="5.60" stroke-linejoin="round"/>
<path d="M481.6 297.9L463.0 297.9L465.7 281.2L481.0 282.8Z" fill="#d093ba" stroke="#d093ba" stroke-width="6.80" stroke-linejoin="round"/>
<path d="M481.6 297.9L463.0 297.9L465.7 281.2L481.0 282.8Z" fill="#e2f3f3" stroke="#e2f3f3" stroke-width="5.60" stroke-linejoin="round"/>
<path d="M502.2 297.9L488.2 297.9L487.6 281.1L488.0 280.6L502.9 281.5Z" fill="#d093ba" stroke="#d093ba" stroke-width="6.80" stroke-linejoin="round"/>
<path d="M502.2 297.9L488.2 297.9L487.6 281.1L488.0 280.6L502.9 281.5Z" fill="#e2f3f3" stroke="#e2f3f3" stroke-width="5.60" stroke-linejoin="round"/>
<path d="M525.3 282.8L525.3 297.9L508.8 297.9L509.4 282.3Z" fill="#d093ba" stroke="#d093ba" stroke-width="6.80" stroke-linejoin="round"/>
<path d="M525.3 282.8L525.3 297.9L508.8 297.9L509.4 282.3Z" fill="#e2f3f3" stroke="#e2f3f3" stroke-width="5.60" stroke-linejoin="round"/>
<path d="M438.0 297.9L418.8 297.9L418.8 282.3L434.8 285.0Z" fill="#d093ba" stroke="#d093ba" stroke-width="6.80" stroke-linejoin="round"/>
<path d="M438.0 297.9L418.8 297.9L418.8 282.3L434.8 285.0Z" fill="#e2f3f3" stroke="#e2f3f3" stroke-width="5.60" stroke-linejoin="round"/>
<circle cx="469.6" cy="252.7" r="1.80" fill="#e5b8d3" opacity="0.75"/>
<circle cx="508.3" cy="263.3" r="1.69" fill="#e5b8d3" opacity="0.75"/>
<circle cx="486.6" cy="277.2" r="1.23" fill="#e5b8d3" opacity="0.75"/>
<circle cx="496.1" cy="253.4" r="2.32" fill="#e5b8d3" opacity="0.75"/>
<circle cx="446.9" cy="252.1" r="2.17" fill="#e5b8d3" opacity="0.75"/>
<circle cx="458.0" cy="232.4" r="2.17" fill="#e5b8d3" opacity="0.75"/>
<circle cx="498.9" cy="241.2" r="1.43" fill="#e5b8d3" opacity="0.75"/>
<circle cx="496.1" cy="236.3" r="1.59" fill="#e5b8d3" opacity="0.75"/>
<circle cx="479.0" cy="232.8" r="1.99" fill="#e5b8d3" opacity="0.75"/>
<circle cx="505.8" cy="278.4" r="1.39" fill="#e5b8d3" opacity="0.75"/>
<circle cx="434.1" cy="237.6" r="2.28" fill="#e5b8d3" opacity="0.75"/>
<circle cx="437.5" cy="282.2" r="2.15" fill="#e5b8d3" opacity="0.75"/>
<circle cx="466.1" cy="255.3" r="1.31" fill="#e5b8d3" opacity="0.75"/>
<circle cx="484.2" cy="279.8" r="2.14" fill="#e5b8d3" opacity="0.75"/>
<circle cx="486.2" cy="259.0" r="2.56" fill="#e5b8d3" opacity="0.75"/>
<line x1="435.7" y1="214.3" x2="455.5" y2="214.3" stroke="#e5b8d3" stroke-width="2.58" opacity="0.55" stroke-linecap="round"/>
<line x1="434.1" y1="237.6" x2="445.0" y2="244.4" stroke="#e5b8d3" stroke-width="2.92" opacity="0.55" stroke-linecap="round"/>
<line x1="477.8" y1="214.3" x2="479.0" y2="232.8" stroke="#e5b8d3" stroke-width="2.98" opacity="0.55" stroke-linecap="round"/>
<line x1="528.6" y1="214.3" x2="528.6" y2="239.5" stroke="#e5b8d3" stroke-width="2.54" opacity="0.55" stroke-linecap="round"/>
<line x1="498.9" y1="241.2" x2="528.6" y2="239.5" stroke="#e5b8d3" stroke-width="1.88" opacity="0.55" stroke-linecap="round"/>
<line x1="496.1" y1="236.3" x2="498.9" y2="241.2" stroke="#e5b8d3" stroke-width="2.24" opacity="0.55" stroke-linecap="round"/>
<line x1="469.6" y1="252.7" x2="470.0" y2="240.7" stroke="#e5b8d3" stroke-width="1.83" opacity="0.55" stroke-linecap="round"/>
<line x1="486.2" y1="259.0" x2="496.1" y2="253.4" stroke="#e5b8d3" stroke-width="1.80" opacity="0.55" stroke-linecap="round"/>
<line x1="508.3" y1="263.3" x2="528.6" y2="258.1" stroke="#e5b8d3" stroke-width="2.89" opacity="0.55" stroke-linecap="round"/>
<line x1="496.1" y1="253.4" x2="508.3" y2="263.3" stroke="#e5b8d3" stroke-width="1.71" opacity="0.55" stroke-linecap="round"/>
<line x1="444.7" y1="272.3" x2="461.9" y2="276.0" stroke="#e5b8d3" stroke-width="2.55" opacity="0.55" stroke-linecap="round"/>
<line x1="461.9" y1="276.0" x2="462.9" y2="277.6" stroke="#e5b8d3" stroke-width="2.99" opacity="0.55" stroke-linecap="round"/>
<line x1="486.2" y1="259.0" x2="486.6" y2="277.2" stroke="#e5b8d3" stroke-width="2.60" opacity="0.55" stroke-linecap="round"/>
<line x1="505.8" y1="278.4" x2="508.3" y2="263.3" stroke="#e5b8d3" stroke-width="2.73" opacity="0.55" stroke-linecap="round"/>
<line x1="486.6" y1="277.2" x2="505.8" y2="278.4" stroke="#e5b8d3" stroke-width="2.35" opacity="0.55" stroke-linecap="round"/>
<line x1="505.8" y1="278.4" x2="506.3" y2="278.9" stroke="#e5b8d3" stroke-width="2.98" opacity="0.55" stroke-linecap="round"/>
<line x1="442.2" y1="301.2" x2="459.1" y2="301.2" stroke="#e5b8d3" stroke-width="2.08" opacity="0.55" stroke-linecap="round"/>
<line x1="459.1" y1="301.2" x2="462.9" y2="277.6" stroke="#e5b8d3" stroke-width="2.06" opacity="0.55" stroke-linecap="round"/>
<line x1="485.0" y1="301.2" x2="505.4" y2="301.2" stroke="#e5b8d3" stroke-width="2.47" opacity="0.55" stroke-linecap="round"/>
<path d="M447.0 238.4L445.5 247.0L444.5 256.2L445.8 264.0L447.5 272.8" fill="none" stroke="#c0508a" stroke-width="1.44" opacity="0.55" stroke-linejoin="round" stroke-linecap="round"/>
<line x1="445.0" y1="244.4" x2="446.9" y2="252.1" stroke="#c0508a" stroke-width="1.8" stroke-linecap="round"/>
<line x1="440.8" y1="261.2" x2="446.9" y2="252.1" stroke="#c0508a" stroke-width="1.8" stroke-linecap="round"/>
<line x1="440.8" y1="261.2" x2="444.7" y2="272.3" stroke="#c0508a" stroke-width="1.8" stroke-linecap="round"/>
<path d="M466.1 234.6L468.7 243.5L471.2 251.1" fill="none" stroke="#c0508a" stroke-width="1.36" opacity="0.55" stroke-linejoin="round" stroke-linecap="round"/>
<line x1="469.6" y1="252.7" x2="470.0" y2="240.7" stroke="#c0508a" stroke-width="1.7" stroke-linecap="round"/>
<path d="M449.0 241.0L455.5 237.5L462.0 240.0" fill="none" stroke="#cc70a5" stroke-width="0.96" opacity="0.55" stroke-linejoin="round" stroke-linecap="round"/>
<path d="M500.5 281.7L503.0 286.8" fill="none" stroke="#c0508a" stroke-width="1.12" opacity="0.55" stroke-linejoin="round" stroke-linecap="round"/>
<ellipse cx="496.1" cy="236.3" rx="1.0" ry="0.85" fill="#9a3a78"/>
<ellipse cx="479.0" cy="232.8" rx="1.0" ry="0.85" fill="#9a3a78"/>
<ellipse cx="496.1" cy="253.4" rx="1.0" ry="0.85" fill="#9a3a78"/>
<ellipse cx="437.5" cy="282.2" rx="1.0" ry="0.85" fill="#9a3a78"/>
<ellipse cx="444.7" cy="272.3" rx="1.0" ry="0.85" fill="#9a3a78"/>
<ellipse cx="461.9" cy="276.0" rx="1.0" ry="0.85" fill="#9a3a78"/>
<ellipse cx="508.3" cy="263.3" rx="1.0" ry="0.85" fill="#9a3a78"/>
<ellipse cx="505.8" cy="278.4" rx="1.0" ry="0.85" fill="#9a3a78"/>
<ellipse cx="506.3" cy="278.9" rx="1.0" ry="0.85" fill="#9a3a78"/>
<ellipse cx="496.1" cy="253.4" rx="1.0" ry="0.85" fill="#9a3a78"/>
<ellipse cx="470.0" cy="240.7" rx="1.0" ry="0.85" fill="#9a3a78"/>
</g></g>
<line x1="314.6" y1="139.20000000000002" x2="314.6" y2="297.8" stroke="#111" stroke-width="1.2" />
<line x1="419.5" y1="139.20000000000002" x2="419.5" y2="297.8" stroke="#111" stroke-width="1.2" />
<line x1="524.6" y1="139.20000000000002" x2="524.6" y2="297.8" stroke="#111" stroke-width="1.2" />
<line x1="314.0" y1="139.8" x2="525.2" y2="139.8" stroke="#111" stroke-width="1.2" />
<line x1="314.0" y1="218.3" x2="525.2" y2="218.3" stroke="#111" stroke-width="1.2" />
<line x1="314.0" y1="297.2" x2="525.2" y2="297.2" stroke="#111" stroke-width="1.2" />
<line x1="382.1" y1="212.5" x2="406.2" y2="212.5" stroke="#000" stroke-width="1.6" />
<line x1="490.3" y1="212.4" x2="514.5" y2="212.4" stroke="#000" stroke-width="1.6" />
<line x1="381.8" y1="292.5" x2="406.0" y2="292.5" stroke="#000" stroke-width="1.6" />
<line x1="491.0" y1="292.5" x2="515.0" y2="292.5" stroke="#000" stroke-width="1.6" />
<text x="502.4" y="290.9" font-size="6.0" text-anchor="middle" font-weight="bold" stroke="#000" stroke-width="0.12" fill="#000" >200 µm</text>
</svg></body></html>
